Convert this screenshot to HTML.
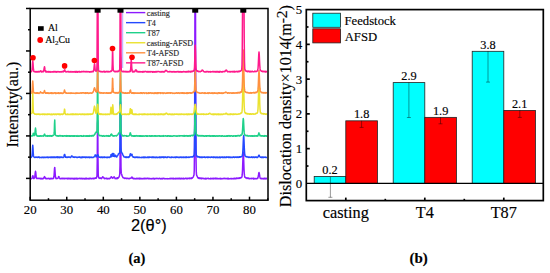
<!DOCTYPE html>
<html><head><meta charset="utf-8"><style>
html,body{margin:0;padding:0;background:#fff;width:550px;height:273px;overflow:hidden}
svg{display:block}
text{stroke:currentColor;stroke-width:0.15px}
</style></head><body>
<svg width="550" height="273" viewBox="0 0 550 273">
<defs><clipPath id="ca"><rect x="30.9" y="9.2" width="236.4" height="189.9"/></clipPath></defs>
<g clip-path="url(#ca)" fill="none" stroke-width="1.5" stroke-linejoin="round">
<path stroke="#8c1aff" d="M31.00 178.30L31.25 178.78L31.50 178.71L31.75 178.29L32.00 178.24L32.25 177.52L32.50 176.45L32.75 175.76L33.00 175.96L33.25 177.13L33.50 178.40L33.75 178.34L34.00 178.59L34.25 178.01L34.50 178.08L34.75 177.45L35.00 175.16L35.25 172.90L35.50 171.36L35.75 172.27L36.00 175.04L36.25 177.35L36.50 178.45L36.75 178.31L37.00 178.26L37.25 178.44L37.50 178.19L37.75 178.34L38.00 178.50L38.25 178.55L38.50 178.37L38.75 178.37L39.00 178.37L39.25 178.54L39.50 178.42L39.75 178.24L40.00 178.81L40.25 178.61L40.50 178.68L40.75 178.36L41.00 178.92L41.25 178.83L41.50 178.31L41.75 178.46L42.00 178.73L42.25 178.72L42.50 178.87L42.75 178.50L43.00 178.77L43.25 178.62L43.50 178.24L43.75 178.11L44.00 177.73L44.25 177.06L44.50 176.60L44.75 177.10L45.00 177.38L45.25 178.02L45.50 178.64L45.75 178.46L46.00 178.32L46.25 178.59L46.50 178.71L46.75 178.69L47.00 178.48L47.25 178.53L47.50 178.58L47.75 178.77L48.00 178.59L48.25 178.50L48.50 178.57L48.75 178.25L49.00 178.26L49.25 178.72L49.50 178.91L49.75 178.64L50.00 178.50L50.25 178.34L50.50 178.57L50.75 178.90L51.00 178.75L51.25 178.58L51.50 178.80L51.75 178.35L52.00 178.54L52.25 178.83L52.50 178.55L52.75 178.45L53.00 178.28L53.25 178.41L53.50 178.55L53.75 177.36L54.00 176.28L54.25 172.87L54.50 168.76L54.75 167.42L55.00 170.65L55.25 174.57L55.50 177.12L55.75 177.99L56.00 178.00L56.25 178.66L56.50 178.49L56.75 178.26L57.00 178.48L57.25 178.47L57.50 178.35L57.75 178.23L58.00 178.05L58.25 177.54L58.50 176.88L58.75 176.55L59.00 176.68L59.25 177.49L59.50 177.95L59.75 178.48L60.00 178.76L60.25 178.75L60.50 178.76L60.75 178.78L61.00 178.39L61.25 178.81L61.50 178.69L61.75 178.28L62.00 178.24L62.25 178.24L62.50 178.76L62.75 178.41L63.00 178.31L63.25 178.67L63.50 178.48L63.75 178.28L64.00 178.35L64.25 178.61L64.50 178.36L64.75 178.43L65.00 178.74L65.25 178.56L65.50 178.46L65.75 178.57L66.00 178.26L66.25 178.51L66.50 178.53L66.75 178.37L67.00 178.32L67.25 178.87L67.50 178.60L67.75 178.39L68.00 178.67L68.25 178.81L68.50 178.26L68.75 178.25L69.00 178.34L69.25 178.74L69.50 178.35L69.75 178.73L70.00 178.72L70.25 178.62L70.50 178.40L70.75 178.92L71.00 178.80L71.25 178.60L71.50 178.40L71.75 178.70L72.00 178.52L72.25 178.64L72.50 178.47L72.75 178.68L73.00 178.28L73.25 178.45L73.50 178.92L73.75 178.85L74.00 178.46L74.25 178.84L74.50 178.46L74.75 178.90L75.00 178.76L75.25 178.53L75.50 178.42L75.75 178.25L76.00 178.86L76.25 178.27L76.50 178.81L76.75 178.91L77.00 178.64L77.25 178.36L77.50 178.85L77.75 178.92L78.00 178.73L78.25 178.60L78.50 178.50L78.75 178.48L79.00 178.38L79.25 178.71L79.50 178.54L79.75 178.37L80.00 178.31L80.25 178.70L80.50 178.45L80.75 178.59L81.00 178.47L81.25 178.85L81.50 178.87L81.75 178.25L82.00 178.38L82.25 178.47L82.50 178.93L82.75 178.78L83.00 178.47L83.25 178.38L83.50 178.71L83.75 178.82L84.00 178.89L84.25 178.47L84.50 178.85L84.75 178.71L85.00 178.57L85.25 178.92L85.50 178.40L85.75 178.74L86.00 178.29L86.25 178.35L86.50 178.87L86.75 178.38L87.00 178.76L87.25 178.65L87.50 178.81L87.75 178.48L88.00 178.46L88.25 178.43L88.50 178.83L88.75 178.64L89.00 178.89L89.25 178.84L89.50 178.31L89.75 178.60L90.00 178.28L90.25 178.23L90.50 178.26L90.75 178.81L91.00 178.75L91.25 178.77L91.50 178.43L91.75 178.62L92.00 178.73L92.25 178.44L92.50 178.57L92.75 178.32L93.00 178.21L93.25 178.33L93.50 178.75L93.75 178.51L94.00 178.75L94.25 178.40L94.50 178.25L94.75 178.57L95.00 178.56L95.25 177.94L95.50 178.33L95.75 177.83L96.00 177.73L96.25 178.09L96.50 177.25L96.75 177.00L97.00 175.72L97.25 160.90L97.50 123.22L97.75 120.76L98.00 158.47L98.25 175.15L98.50 176.85L98.75 177.83L99.00 177.71L99.25 178.30L99.50 178.38L99.75 178.04L100.00 178.08L100.25 178.28L100.50 178.05L100.75 178.46L101.00 178.04L101.25 177.99L101.50 178.60L101.75 177.97L102.00 177.96L102.25 177.56L102.50 177.16L102.75 176.76L103.00 177.31L103.25 177.51L103.50 177.81L103.75 177.53L104.00 177.88L104.25 178.35L104.50 178.73L104.75 178.49L105.00 178.62L105.25 178.62L105.50 178.35L105.75 178.55L106.00 178.39L106.25 178.35L106.50 178.24L106.75 178.38L107.00 178.87L107.25 178.50L107.50 178.64L107.75 178.64L108.00 178.84L108.25 178.46L108.50 178.39L108.75 178.41L109.00 178.39L109.25 178.76L109.50 178.77L109.75 178.32L110.00 178.27L110.25 178.26L110.50 178.03L110.75 177.69L111.00 177.09L111.25 176.71L111.50 176.90L111.75 177.04L112.00 177.72L112.25 177.68L112.50 177.84L112.75 178.23L113.00 177.82L113.25 177.86L113.50 177.30L113.75 177.30L114.00 176.77L114.25 177.24L114.50 177.80L114.75 177.63L115.00 178.48L115.25 178.08L115.50 178.57L115.75 178.73L116.00 178.62L116.25 178.26L116.50 178.09L116.75 178.35L117.00 178.60L117.25 178.11L117.50 178.47L117.75 177.84L118.00 178.24L118.25 177.43L118.50 177.35L118.75 177.40L119.00 176.85L119.25 176.31L119.50 175.49L119.75 174.06L120.00 165.48L120.25 129.47L120.50 102.03L120.75 136.93L121.00 167.38L121.25 173.13L121.50 173.85L121.75 174.46L122.00 175.78L122.25 176.30L122.50 176.66L122.75 177.11L123.00 177.70L123.25 177.71L123.50 177.88L123.75 177.99L124.00 178.04L124.25 177.96L124.50 178.44L124.75 178.32L125.00 178.46L125.25 178.12L125.50 178.34L125.75 178.21L126.00 178.21L126.25 178.31L126.50 178.72L126.75 178.42L127.00 178.43L127.25 178.59L127.50 178.33L127.75 178.17L128.00 178.54L128.25 178.52L128.50 178.63L128.75 178.48L129.00 178.66L129.25 178.69L129.50 178.34L129.75 178.51L130.00 178.47L130.25 178.25L130.50 178.28L130.75 178.23L131.00 178.26L131.25 178.01L131.50 177.33L131.75 177.47L132.00 177.10L132.25 177.31L132.50 177.87L132.75 178.37L133.00 178.05L133.25 178.60L133.50 178.75L133.75 178.39L134.00 178.68L134.25 178.80L134.50 178.47L134.75 178.70L135.00 178.73L135.25 178.63L135.50 178.82L135.75 178.85L136.00 178.89L136.25 178.62L136.50 178.35L136.75 178.40L137.00 178.38L137.25 178.63L137.50 178.76L137.75 178.27L138.00 178.71L138.25 178.73L138.50 178.47L138.75 178.59L139.00 178.35L139.25 178.74L139.50 178.26L139.75 178.92L140.00 178.80L140.25 178.67L140.50 178.42L140.75 178.87L141.00 178.91L141.25 178.33L141.50 178.78L141.75 178.83L142.00 178.70L142.25 178.73L142.50 178.55L142.75 178.88L143.00 178.92L143.25 178.51L143.50 178.80L143.75 178.54L144.00 178.35L144.25 178.47L144.50 178.33L144.75 178.87L145.00 178.91L145.25 178.32L145.50 178.66L145.75 178.52L146.00 178.32L146.25 178.45L146.50 178.41L146.75 178.76L147.00 178.24L147.25 178.37L147.50 178.55L147.75 178.25L148.00 178.68L148.25 178.66L148.50 178.82L148.75 178.38L149.00 178.44L149.25 178.62L149.50 178.43L149.75 178.65L150.00 178.42L150.25 178.72L150.50 178.79L150.75 178.81L151.00 178.92L151.25 178.62L151.50 178.58L151.75 178.84L152.00 178.78L152.25 178.64L152.50 178.51L152.75 178.44L153.00 178.32L153.25 178.81L153.50 178.32L153.75 178.76L154.00 178.62L154.25 178.92L154.50 178.77L154.75 178.92L155.00 178.34L155.25 178.59L155.50 178.64L155.75 178.46L156.00 178.59L156.25 178.49L156.50 178.61L156.75 178.24L157.00 178.55L157.25 178.56L157.50 178.45L157.75 178.52L158.00 178.79L158.25 178.72L158.50 178.59L158.75 178.69L159.00 178.51L159.25 178.38L159.50 178.24L159.75 178.44L160.00 178.66L160.25 178.86L160.50 178.82L160.75 178.60L161.00 178.93L161.25 178.56L161.50 178.82L161.75 178.53L162.00 178.76L162.25 178.93L162.50 178.45L162.75 178.36L163.00 178.67L163.25 178.61L163.50 178.49L163.75 178.24L164.00 178.51L164.25 178.54L164.50 178.52L164.75 178.84L165.00 178.65L165.25 178.75L165.50 178.87L165.75 178.76L166.00 178.58L166.25 178.76L166.50 178.69L166.75 178.69L167.00 178.68L167.25 178.52L167.50 178.68L167.75 178.68L168.00 178.89L168.25 178.79L168.50 178.83L168.75 178.78L169.00 178.81L169.25 178.66L169.50 178.48L169.75 178.42L170.00 178.73L170.25 178.85L170.50 178.62L170.75 178.34L171.00 178.82L171.25 178.58L171.50 178.56L171.75 178.27L172.00 178.59L172.25 178.76L172.50 178.53L172.75 178.48L173.00 178.69L173.25 178.25L173.50 178.59L173.75 178.90L174.00 178.72L174.25 178.51L174.50 178.72L174.75 178.66L175.00 178.38L175.25 178.38L175.50 178.85L175.75 178.42L176.00 178.28L176.25 178.81L176.50 178.60L176.75 178.49L177.00 178.59L177.25 178.74L177.50 178.35L177.75 178.68L178.00 178.73L178.25 178.80L178.50 178.41L178.75 178.65L179.00 178.39L179.25 178.62L179.50 178.34L179.75 178.78L180.00 178.83L180.25 178.45L180.50 178.38L180.75 178.89L181.00 178.71L181.25 178.81L181.50 178.24L181.75 178.84L182.00 178.65L182.25 178.43L182.50 178.51L182.75 178.74L183.00 178.76L183.25 178.34L183.50 178.64L183.75 178.32L184.00 178.88L184.25 178.51L184.50 178.84L184.75 178.70L185.00 178.62L185.25 178.37L185.50 178.55L185.75 178.28L186.00 178.28L186.25 178.68L186.50 178.42L186.75 178.69L187.00 178.33L187.25 178.66L187.50 178.65L187.75 178.36L188.00 178.21L188.25 178.41L188.50 178.47L188.75 178.18L189.00 178.23L189.25 178.13L189.50 178.50L189.75 178.68L190.00 178.20L190.25 178.05L190.50 178.50L190.75 178.55L191.00 178.62L191.25 178.34L191.50 178.10L191.75 178.38L192.00 177.79L192.25 178.08L192.50 177.51L192.75 177.52L193.00 177.30L193.25 176.84L193.50 176.22L193.75 175.65L194.00 175.01L194.25 170.49L194.50 149.63L194.75 85.21L195.00 -13.25L195.25 -57.77L195.50 6.76L195.75 103.39L196.00 156.47L196.25 171.08L196.50 174.61L196.75 175.58L197.00 175.88L197.25 176.48L197.50 177.07L197.75 177.67L198.00 177.58L198.25 178.11L198.50 178.18L198.75 177.86L199.00 178.47L199.25 177.90L199.50 178.04L199.75 178.43L200.00 178.04L200.25 178.29L200.50 178.13L200.75 178.38L201.00 178.66L201.25 178.72L201.50 178.12L201.75 178.15L202.00 178.71L202.25 178.16L202.50 178.33L202.75 178.22L203.00 178.21L203.25 178.17L203.50 178.61L203.75 178.69L204.00 178.65L204.25 178.76L204.50 178.64L204.75 178.45L205.00 178.62L205.25 178.86L205.50 178.64L205.75 178.36L206.00 178.24L206.25 178.85L206.50 178.61L206.75 178.44L207.00 178.62L207.25 178.59L207.50 178.57L207.75 178.25L208.00 178.45L208.25 178.50L208.50 178.35L208.75 178.83L209.00 178.51L209.25 178.68L209.50 178.71L209.75 178.73L210.00 178.72L210.25 178.74L210.50 178.39L210.75 178.90L211.00 178.32L211.25 178.86L211.50 178.82L211.75 178.82L212.00 178.26L212.25 178.28L212.50 178.79L212.75 178.55L213.00 178.48L213.25 178.91L213.50 178.25L213.75 178.60L214.00 178.53L214.25 178.31L214.50 178.50L214.75 178.72L215.00 178.84L215.25 178.24L215.50 178.59L215.75 178.29L216.00 178.79L216.25 178.29L216.50 178.25L216.75 178.49L217.00 178.74L217.25 178.44L217.50 178.32L217.75 178.78L218.00 178.79L218.25 178.82L218.50 178.44L218.75 178.52L219.00 178.40L219.25 178.62L219.50 178.46L219.75 178.46L220.00 178.77L220.25 178.89L220.50 178.63L220.75 178.30L221.00 178.68L221.25 178.54L221.50 178.92L221.75 178.73L222.00 178.81L222.25 178.71L222.50 178.60L222.75 178.85L223.00 178.80L223.25 178.43L223.50 178.33L223.75 178.48L224.00 178.59L224.25 178.29L224.50 178.46L224.75 178.62L225.00 178.25L225.25 178.79L225.50 178.67L225.75 178.44L226.00 178.43L226.25 178.46L226.50 178.44L226.75 178.74L227.00 178.56L227.25 178.58L227.50 178.32L227.75 178.85L228.00 178.44L228.25 178.44L228.50 178.26L228.75 178.89L229.00 178.54L229.25 178.84L229.50 178.85L229.75 178.88L230.00 178.77L230.25 178.85L230.50 178.84L230.75 178.76L231.00 178.29L231.25 178.56L231.50 178.59L231.75 178.88L232.00 178.73L232.25 178.67L232.50 178.70L232.75 178.43L233.00 178.83L233.25 178.62L233.50 178.45L233.75 178.49L234.00 178.84L234.25 178.52L234.50 178.26L234.75 178.25L235.00 178.62L235.25 178.52L235.50 178.76L235.75 178.24L236.00 178.39L236.25 178.60L236.50 178.12L236.75 178.14L237.00 178.44L237.25 178.23L237.50 178.10L237.75 178.19L238.00 178.43L238.25 178.33L238.50 177.99L238.75 177.96L239.00 178.47L239.25 178.28L239.50 177.91L239.75 178.33L240.00 177.68L240.25 177.85L240.50 178.09L240.75 177.89L241.00 177.46L241.25 177.73L241.50 177.32L241.75 177.20L242.00 176.54L242.25 174.43L242.50 170.55L242.75 163.61L243.00 156.23L243.25 152.00L243.50 154.30L243.75 161.47L244.00 169.04L244.25 173.42L244.50 175.69L244.75 176.98L245.00 177.37L245.25 177.41L245.50 177.56L245.75 177.64L246.00 178.09L246.25 178.12L246.50 178.05L246.75 177.74L247.00 178.37L247.25 178.14L247.50 177.99L247.75 178.11L248.00 178.41L248.25 177.96L248.50 178.07L248.75 178.21L249.00 178.64L249.25 178.56L249.50 178.73L249.75 178.45L250.00 178.48L250.25 178.47L250.50 178.47L250.75 178.49L251.00 178.69L251.25 178.79L251.50 178.41L251.75 178.58L252.00 178.35L252.25 178.36L252.50 178.50L252.75 178.56L253.00 178.54L253.25 178.84L253.50 178.27L253.75 178.61L254.00 178.86L254.25 178.68L254.50 178.56L254.75 178.42L255.00 178.45L255.25 178.82L255.50 178.79L255.75 178.63L256.00 178.78L256.25 178.80L256.50 178.73L256.75 178.39L257.00 178.43L257.25 178.63L257.50 178.24L257.75 178.28L258.00 177.54L258.25 176.37L258.50 174.88L258.75 173.03L259.00 172.47L259.25 173.21L259.50 174.54L259.75 176.23L260.00 177.38L260.25 178.36L260.50 178.40L260.75 178.28L261.00 178.82L261.25 178.32L261.50 178.52L261.75 178.69L262.00 178.66L262.25 178.49L262.50 178.74L262.75 178.54L263.00 178.70L263.25 178.55L263.50 178.89L263.75 178.71L264.00 178.28L264.25 178.31L264.50 178.89L264.75 178.38L265.00 178.24L265.25 178.40L265.50 178.56L265.75 178.89L266.00 178.50L266.25 178.73L266.50 178.81L266.75 178.29L267.00 178.66"/>
<path stroke="#2449ff" d="M31.00 157.50L31.25 157.45L31.50 156.76L31.75 156.56L32.00 156.22L32.25 153.41L32.50 148.54L32.75 145.17L33.00 148.16L33.25 153.05L33.50 155.93L33.75 156.59L34.00 157.01L34.25 157.06L34.50 157.33L34.75 157.55L35.00 157.54L35.25 157.27L35.50 157.21L35.75 157.09L36.00 156.94L36.25 156.94L36.50 157.25L36.75 157.15L37.00 157.19L37.25 157.55L37.50 157.30L37.75 157.33L38.00 157.10L38.25 156.95L38.50 157.16L38.75 157.03L39.00 157.30L39.25 157.64L39.50 157.41L39.75 157.07L40.00 157.57L40.25 157.50L40.50 157.46L40.75 157.58L41.00 157.48L41.25 157.50L41.50 157.19L41.75 157.63L42.00 157.62L42.25 157.06L42.50 157.47L42.75 157.45L43.00 157.27L43.25 157.32L43.50 157.29L43.75 157.59L44.00 157.30L44.25 157.53L44.50 157.19L44.75 157.56L45.00 157.58L45.25 157.27L45.50 157.34L45.75 157.59L46.00 157.45L46.25 157.29L46.50 157.10L46.75 157.17L47.00 157.44L47.25 157.06L47.50 157.58L47.75 157.13L48.00 157.58L48.25 157.16L48.50 157.62L48.75 157.44L49.00 157.30L49.25 157.31L49.50 157.40L49.75 157.36L50.00 157.16L50.25 157.09L50.50 157.30L50.75 157.60L51.00 157.38L51.25 157.00L51.50 157.52L51.75 157.45L52.00 157.58L52.25 157.08L52.50 157.47L52.75 156.99L53.00 157.40L53.25 157.14L53.50 157.10L53.75 157.56L54.00 157.02L54.25 157.31L54.50 157.54L54.75 157.12L55.00 157.09L55.25 157.56L55.50 157.24L55.75 157.45L56.00 156.97L56.25 157.20L56.50 157.07L56.75 157.42L57.00 157.00L57.25 157.61L57.50 156.96L57.75 157.45L58.00 156.96L58.25 157.12L58.50 157.51L58.75 157.05L59.00 157.07L59.25 157.43L59.50 157.21L59.75 156.97L60.00 157.63L60.25 157.05L60.50 156.96L60.75 157.18L61.00 157.37L61.25 157.46L61.50 157.01L61.75 157.17L62.00 156.95L62.25 157.24L62.50 157.45L62.75 157.43L63.00 157.53L63.25 157.40L63.50 157.41L63.75 157.04L64.00 156.21L64.25 154.96L64.50 154.44L64.75 154.55L65.00 155.49L65.25 156.62L65.50 157.33L65.75 156.94L66.00 157.30L66.25 157.18L66.50 157.27L66.75 157.02L67.00 157.59L67.25 157.11L67.50 157.35L67.75 157.22L68.00 156.94L68.25 157.32L68.50 157.03L68.75 156.97L69.00 156.95L69.25 157.04L69.50 156.99L69.75 157.36L70.00 157.27L70.25 157.59L70.50 157.52L70.75 157.46L71.00 156.73L71.25 156.53L71.50 155.98L71.75 155.90L72.00 155.94L72.25 156.39L72.50 156.74L72.75 156.76L73.00 157.07L73.25 157.24L73.50 156.91L73.75 156.94L74.00 157.21L74.25 157.00L74.50 157.44L74.75 157.10L75.00 157.00L75.25 157.06L75.50 157.10L75.75 157.09L76.00 157.30L76.25 157.26L76.50 157.16L76.75 157.39L77.00 157.09L77.25 157.58L77.50 157.62L77.75 157.45L78.00 157.25L78.25 157.30L78.50 157.35L78.75 156.98L79.00 157.24L79.25 157.31L79.50 157.07L79.75 157.01L80.00 157.50L80.25 157.20L80.50 157.31L80.75 157.59L81.00 157.37L81.25 157.15L81.50 157.63L81.75 157.20L82.00 156.96L82.25 157.42L82.50 157.01L82.75 157.16L83.00 157.53L83.25 157.41L83.50 156.95L83.75 157.26L84.00 157.23L84.25 157.28L84.50 157.09L84.75 157.35L85.00 156.99L85.25 157.14L85.50 157.20L85.75 157.60L86.00 156.99L86.25 157.47L86.50 157.08L86.75 157.34L87.00 157.21L87.25 157.26L87.50 157.47L87.75 157.22L88.00 157.02L88.25 157.02L88.50 156.99L88.75 157.53L89.00 157.39L89.25 157.61L89.50 157.42L89.75 156.95L90.00 157.39L90.25 157.48L90.50 157.44L90.75 157.28L91.00 157.18L91.25 157.25L91.50 157.48L91.75 157.11L92.00 157.29L92.25 157.25L92.50 157.58L92.75 157.47L93.00 157.55L93.25 157.47L93.50 157.08L93.75 157.00L94.00 157.08L94.25 156.69L94.50 156.37L94.75 155.89L95.00 155.38L95.25 154.82L95.50 155.25L95.75 155.39L96.00 156.21L96.25 157.05L96.50 156.51L96.75 156.41L97.00 155.54L97.25 154.73L97.50 154.64L97.75 154.69L98.00 155.08L98.25 155.56L98.50 156.37L98.75 156.73L99.00 157.23L99.25 157.32L99.50 157.18L99.75 157.25L100.00 156.97L100.25 157.28L100.50 157.57L100.75 157.44L101.00 156.98L101.25 157.28L101.50 157.42L101.75 157.10L102.00 157.55L102.25 157.24L102.50 157.41L102.75 157.20L103.00 157.62L103.25 157.47L103.50 157.32L103.75 157.02L104.00 157.23L104.25 156.94L104.50 157.34L104.75 157.54L105.00 157.05L105.25 157.28L105.50 157.26L105.75 157.20L106.00 157.41L106.25 157.57L106.50 157.41L106.75 157.24L107.00 157.59L107.25 157.14L107.50 157.43L107.75 157.37L108.00 157.44L108.25 157.50L108.50 157.05L108.75 157.33L109.00 157.17L109.25 157.35L109.50 157.55L109.75 157.30L110.00 156.84L110.25 157.10L110.50 157.03L110.75 156.29L111.00 154.71L111.25 154.54L111.50 155.22L111.75 156.65L112.00 155.84L112.25 153.96L112.50 153.51L112.75 155.08L113.00 155.86L113.25 156.13L113.50 154.63L113.75 153.42L114.00 155.07L114.25 156.33L114.50 156.43L114.75 156.56L115.00 155.46L115.25 155.25L115.50 155.15L115.75 155.59L116.00 156.42L116.25 156.69L116.50 156.59L116.75 157.04L117.00 156.21L117.25 155.85L117.50 155.75L117.75 155.47L118.00 154.77L118.25 154.30L118.50 153.70L118.75 153.62L119.00 153.36L119.25 153.36L119.50 153.48L119.75 152.51L120.00 145.59L120.25 115.63L120.50 91.50L120.75 121.78L121.00 147.24L121.25 151.52L121.50 152.19L121.75 152.62L122.00 153.14L122.25 153.19L122.50 153.82L122.75 154.58L123.00 155.20L123.25 155.57L123.50 155.77L123.75 156.46L124.00 156.98L124.25 156.72L124.50 156.95L124.75 156.92L125.00 157.01L125.25 157.35L125.50 156.98L125.75 157.23L126.00 157.13L126.25 157.18L126.50 157.45L126.75 156.87L127.00 157.40L127.25 157.04L127.50 157.29L127.75 157.39L128.00 157.29L128.25 157.10L128.50 157.41L128.75 156.87L129.00 157.21L129.25 156.93L129.50 156.68L129.75 156.13L130.00 154.94L130.25 153.88L130.50 153.76L130.75 154.65L131.00 155.56L131.25 155.34L131.50 154.65L131.75 154.53L132.00 154.24L132.25 155.71L132.50 156.30L132.75 156.81L133.00 156.98L133.25 156.88L133.50 157.18L133.75 156.99L134.00 157.19L134.25 157.09L134.50 157.52L134.75 157.55L135.00 157.22L135.25 157.36L135.50 157.56L135.75 157.14L136.00 156.99L136.25 157.09L136.50 157.05L136.75 157.40L137.00 157.18L137.25 157.17L137.50 157.48L137.75 157.09L138.00 157.49L138.25 157.37L138.50 157.21L138.75 157.51L139.00 157.17L139.25 157.55L139.50 157.58L139.75 157.28L140.00 157.42L140.25 157.60L140.50 157.45L140.75 157.46L141.00 157.54L141.25 157.59L141.50 157.46L141.75 157.62L142.00 157.14L142.25 157.37L142.50 157.41L142.75 157.19L143.00 157.21L143.25 157.06L143.50 157.61L143.75 157.19L144.00 157.27L144.25 157.56L144.50 157.07L144.75 157.61L145.00 157.03L145.25 156.96L145.50 157.18L145.75 157.19L146.00 157.58L146.25 157.56L146.50 157.47L146.75 157.25L147.00 157.32L147.25 157.11L147.50 157.52L147.75 157.21L148.00 157.14L148.25 157.39L148.50 157.05L148.75 157.16L149.00 157.59L149.25 157.01L149.50 157.04L149.75 157.08L150.00 157.12L150.25 157.24L150.50 157.12L150.75 157.18L151.00 157.11L151.25 157.11L151.50 157.37L151.75 157.18L152.00 157.20L152.25 157.48L152.50 156.99L152.75 157.04L153.00 157.54L153.25 157.24L153.50 157.49L153.75 157.04L154.00 157.31L154.25 157.53L154.50 157.18L154.75 157.48L155.00 157.37L155.25 157.22L155.50 157.64L155.75 157.22L156.00 157.27L156.25 157.38L156.50 157.16L156.75 157.53L157.00 157.36L157.25 157.35L157.50 157.32L157.75 157.63L158.00 157.63L158.25 157.53L158.50 157.26L158.75 157.23L159.00 157.31L159.25 156.97L159.50 157.02L159.75 157.64L160.00 157.03L160.25 157.60L160.50 157.42L160.75 157.58L161.00 157.00L161.25 157.16L161.50 157.50L161.75 156.95L162.00 157.02L162.25 157.19L162.50 157.06L162.75 157.04L163.00 157.41L163.25 157.01L163.50 157.62L163.75 157.40L164.00 156.98L164.25 157.57L164.50 157.11L164.75 157.28L165.00 157.33L165.25 157.04L165.50 157.29L165.75 156.98L166.00 157.08L166.25 157.58L166.50 157.52L166.75 157.31L167.00 157.42L167.25 157.55L167.50 157.04L167.75 157.29L168.00 157.03L168.25 157.02L168.50 157.02L168.75 157.09L169.00 156.98L169.25 157.09L169.50 157.21L169.75 157.38L170.00 157.54L170.25 157.57L170.50 157.44L170.75 157.29L171.00 157.58L171.25 157.05L171.50 157.01L171.75 157.51L172.00 157.38L172.25 157.09L172.50 157.20L172.75 157.15L173.00 157.24L173.25 157.24L173.50 157.22L173.75 157.50L174.00 157.51L174.25 157.33L174.50 157.27L174.75 157.14L175.00 157.47L175.25 157.63L175.50 157.10L175.75 157.43L176.00 157.42L176.25 157.40L176.50 156.96L176.75 157.32L177.00 157.08L177.25 157.07L177.50 157.34L177.75 157.38L178.00 157.37L178.25 157.45L178.50 157.42L178.75 157.26L179.00 156.96L179.25 157.47L179.50 157.51L179.75 157.51L180.00 157.35L180.25 156.95L180.50 157.06L180.75 157.00L181.00 157.37L181.25 157.31L181.50 157.05L181.75 157.59L182.00 157.61L182.25 157.55L182.50 157.25L182.75 157.12L183.00 157.06L183.25 157.49L183.50 157.41L183.75 157.11L184.00 157.54L184.25 157.31L184.50 157.20L184.75 157.20L185.00 157.41L185.25 157.22L185.50 157.36L185.75 156.98L186.00 157.39L186.25 157.08L186.50 157.53L186.75 157.04L187.00 157.12L187.25 157.26L187.50 157.15L187.75 157.24L188.00 157.51L188.25 157.00L188.50 157.39L188.75 157.33L189.00 157.39L189.25 157.14L189.50 157.14L189.75 157.05L190.00 157.13L190.25 156.96L190.50 156.90L190.75 157.08L191.00 156.86L191.25 157.02L191.50 157.07L191.75 156.84L192.00 156.70L192.25 156.95L192.50 157.06L192.75 156.53L193.00 156.70L193.25 156.60L193.50 156.59L193.75 156.22L194.00 155.57L194.25 154.03L194.50 147.45L194.75 125.75L195.00 92.81L195.25 78.79L195.50 99.69L195.75 131.80L196.00 149.48L196.25 154.60L196.50 155.98L196.75 156.04L197.00 156.31L197.25 156.46L197.50 156.88L197.75 156.41L198.00 156.88L198.25 156.63L198.50 156.70L198.75 157.06L199.00 156.93L199.25 156.75L199.50 157.14L199.75 157.39L200.00 157.22L200.25 157.13L200.50 157.36L200.75 157.45L201.00 156.93L201.25 157.04L201.50 157.52L201.75 157.50L202.00 157.00L202.25 157.35L202.50 157.48L202.75 157.28L203.00 157.37L203.25 157.25L203.50 157.05L203.75 157.04L204.00 156.93L204.25 157.36L204.50 156.99L204.75 157.33L205.00 157.17L205.25 157.21L205.50 157.58L205.75 157.18L206.00 157.24L206.25 157.18L206.50 157.06L206.75 157.07L207.00 157.29L207.25 157.49L207.50 156.98L207.75 157.58L208.00 157.39L208.25 156.96L208.50 157.41L208.75 157.20L209.00 157.28L209.25 156.99L209.50 157.28L209.75 157.29L210.00 157.47L210.25 157.33L210.50 157.42L210.75 157.44L211.00 157.08L211.25 156.94L211.50 157.26L211.75 157.02L212.00 157.03L212.25 157.15L212.50 157.30L212.75 157.36L213.00 157.38L213.25 157.59L213.50 157.00L213.75 157.32L214.00 156.99L214.25 157.40L214.50 157.24L214.75 157.03L215.00 157.15L215.25 157.39L215.50 157.26L215.75 157.59L216.00 157.18L216.25 157.17L216.50 157.58L216.75 157.36L217.00 157.01L217.25 157.48L217.50 157.19L217.75 157.59L218.00 157.38L218.25 157.49L218.50 157.56L218.75 157.29L219.00 157.61L219.25 156.95L219.50 157.17L219.75 157.52L220.00 156.94L220.25 157.40L220.50 157.63L220.75 157.43L221.00 157.53L221.25 156.98L221.50 157.31L221.75 157.36L222.00 157.23L222.25 157.22L222.50 157.48L222.75 157.04L223.00 156.96L223.25 157.34L223.50 157.60L223.75 157.51L224.00 157.40L224.25 157.13L224.50 157.56L224.75 156.95L225.00 157.10L225.25 157.48L225.50 157.55L225.75 157.21L226.00 157.56L226.25 157.00L226.50 157.34L226.75 156.97L227.00 157.09L227.25 157.05L227.50 156.93L227.75 157.20L228.00 157.27L228.25 157.12L228.50 157.37L228.75 156.95L229.00 157.28L229.25 157.28L229.50 157.20L229.75 157.55L230.00 157.00L230.25 157.21L230.50 157.23L230.75 157.17L231.00 157.59L231.25 157.31L231.50 157.27L231.75 157.21L232.00 157.21L232.25 157.56L232.50 157.46L232.75 157.35L233.00 157.01L233.25 157.31L233.50 156.98L233.75 157.13L234.00 156.90L234.25 157.37L234.50 157.56L234.75 157.32L235.00 157.26L235.25 157.04L235.50 157.16L235.75 157.17L236.00 157.14L236.25 157.02L236.50 156.98L236.75 157.35L237.00 157.48L237.25 157.38L237.50 157.22L237.75 156.80L238.00 156.97L238.25 157.34L238.50 157.41L238.75 157.09L239.00 157.08L239.25 157.14L239.50 156.80L239.75 157.09L240.00 156.81L240.25 157.09L240.50 156.77L240.75 156.84L241.00 156.68L241.25 156.57L241.50 156.40L241.75 156.60L242.00 156.27L242.25 155.67L242.50 154.80L242.75 152.75L243.00 148.08L243.25 141.73L243.50 136.80L243.75 135.62L244.00 140.35L244.25 146.72L244.50 151.66L244.75 154.77L245.00 155.92L245.25 155.96L245.50 156.33L245.75 156.59L246.00 156.66L246.25 156.53L246.50 156.92L246.75 156.67L247.00 156.59L247.25 157.01L247.50 157.04L247.75 156.91L248.00 157.00L248.25 157.37L248.50 157.27L248.75 157.01L249.00 157.38L249.25 157.16L249.50 157.06L249.75 157.24L250.00 157.35L250.25 157.44L250.50 157.29L250.75 157.29L251.00 157.11L251.25 156.87L251.50 157.17L251.75 156.93L252.00 157.52L252.25 157.12L252.50 157.29L252.75 157.38L253.00 157.00L253.25 157.46L253.50 157.11L253.75 156.94L254.00 157.30L254.25 157.17L254.50 157.53L254.75 157.20L255.00 156.96L255.25 156.91L255.50 156.91L255.75 157.24L256.00 157.39L256.25 156.93L256.50 157.12L256.75 157.22L257.00 157.51L257.25 157.55L257.50 157.45L257.75 157.21L258.00 156.98L258.25 156.38L258.50 156.13L258.75 155.28L259.00 155.13L259.25 155.74L259.50 156.09L259.75 156.73L260.00 156.91L260.25 156.97L260.50 157.20L260.75 157.28L261.00 157.06L261.25 157.49L261.50 157.59L261.75 157.04L262.00 157.08L262.25 157.49L262.50 157.42L262.75 157.08L263.00 157.33L263.25 157.09L263.50 157.53L263.75 157.34L264.00 157.29L264.25 157.04L264.50 157.21L264.75 157.26L265.00 157.18L265.25 157.06L265.50 157.07L265.75 157.42L266.00 157.58L266.25 157.52L266.50 157.36L266.75 157.49L267.00 157.03"/>
<path stroke="#1fd18a" d="M31.00 135.78L31.25 135.99L31.50 135.86L31.75 136.02L32.00 136.02L32.25 135.60L32.50 135.50L32.75 135.83L33.00 134.69L33.25 133.43L33.50 133.27L33.75 133.66L34.00 135.09L34.25 135.44L34.50 135.50L34.75 134.33L35.00 132.61L35.25 129.83L35.50 127.99L35.75 129.76L36.00 132.67L36.25 134.32L36.50 135.69L36.75 135.83L37.00 135.71L37.25 135.56L37.50 136.17L37.75 135.91L38.00 136.09L38.25 136.21L38.50 136.10L38.75 136.25L39.00 135.89L39.25 136.17L39.50 135.93L39.75 136.27L40.00 136.24L40.25 135.69L40.50 135.72L40.75 135.77L41.00 136.30L41.25 135.93L41.50 136.06L41.75 135.83L42.00 135.97L42.25 135.88L42.50 135.85L42.75 136.01L43.00 135.99L43.25 136.18L43.50 135.90L43.75 135.74L44.00 135.11L44.25 134.56L44.50 134.11L44.75 134.19L45.00 135.35L45.25 135.92L45.50 136.11L45.75 135.96L46.00 136.09L46.25 135.75L46.50 136.19L46.75 136.01L47.00 135.81L47.25 135.66L47.50 136.21L47.75 136.30L48.00 135.67L48.25 136.17L48.50 135.90L48.75 135.71L49.00 135.81L49.25 136.14L49.50 136.21L49.75 135.63L50.00 136.02L50.25 135.62L50.50 136.08L50.75 135.80L51.00 136.18L51.25 136.24L51.50 135.89L51.75 136.22L52.00 135.71L52.25 135.52L52.50 135.85L52.75 135.40L53.00 135.45L53.25 135.50L53.50 135.50L53.75 134.98L54.00 134.46L54.25 132.45L54.50 123.46L54.75 120.06L55.00 128.74L55.25 133.95L55.50 135.04L55.75 135.35L56.00 135.60L56.25 135.68L56.50 135.74L56.75 135.84L57.00 136.11L57.25 135.84L57.50 135.81L57.75 136.03L58.00 135.71L58.25 135.77L58.50 136.25L58.75 135.94L59.00 135.97L59.25 135.60L59.50 135.89L59.75 136.01L60.00 135.62L60.25 136.04L60.50 136.05L60.75 135.66L61.00 136.06L61.25 135.94L61.50 136.10L61.75 135.87L62.00 136.12L62.25 136.14L62.50 135.64L62.75 135.67L63.00 136.10L63.25 136.30L63.50 135.81L63.75 135.95L64.00 136.05L64.25 135.86L64.50 135.89L64.75 135.85L65.00 135.89L65.25 136.05L65.50 135.85L65.75 135.90L66.00 136.18L66.25 135.65L66.50 136.03L66.75 136.15L67.00 135.85L67.25 135.79L67.50 136.20L67.75 135.80L68.00 135.77L68.25 135.94L68.50 136.13L68.75 135.71L69.00 135.86L69.25 135.87L69.50 136.22L69.75 135.95L70.00 136.24L70.25 135.76L70.50 135.87L70.75 136.09L71.00 136.26L71.25 135.96L71.50 135.80L71.75 135.72L72.00 136.01L72.25 135.77L72.50 136.20L72.75 136.23L73.00 135.77L73.25 135.83L73.50 136.20L73.75 136.09L74.00 136.20L74.25 135.88L74.50 135.73L74.75 135.84L75.00 136.19L75.25 135.83L75.50 135.88L75.75 135.93L76.00 135.93L76.25 135.93L76.50 136.28L76.75 135.75L77.00 135.64L77.25 136.30L77.50 136.25L77.75 136.33L78.00 135.94L78.25 136.30L78.50 136.29L78.75 135.79L79.00 136.16L79.25 136.22L79.50 136.10L79.75 136.00L80.00 135.84L80.25 135.87L80.50 135.79L80.75 135.68L81.00 136.05L81.25 135.84L81.50 136.20L81.75 135.67L82.00 136.27L82.25 136.12L82.50 136.28L82.75 136.26L83.00 136.26L83.25 136.03L83.50 135.64L83.75 136.15L84.00 135.75L84.25 135.84L84.50 136.09L84.75 135.99L85.00 135.92L85.25 136.28L85.50 136.05L85.75 135.86L86.00 135.80L86.25 136.22L86.50 135.95L86.75 136.17L87.00 135.86L87.25 135.75L87.50 135.99L87.75 136.18L88.00 135.73L88.25 136.16L88.50 136.25L88.75 136.17L89.00 136.18L89.25 135.60L89.50 136.04L89.75 136.20L90.00 135.62L90.25 135.77L90.50 135.77L90.75 135.94L91.00 135.86L91.25 135.89L91.50 136.10L91.75 135.55L92.00 135.57L92.25 135.61L92.50 135.59L92.75 135.52L93.00 136.12L93.25 135.98L93.50 135.36L93.75 135.52L94.00 135.21L94.25 134.95L94.50 134.64L94.75 134.44L95.00 133.94L95.25 133.31L95.50 132.75L95.75 132.49L96.00 132.14L96.25 132.37L96.50 132.51L96.75 132.25L97.00 130.39L97.25 113.55L97.50 68.84L97.75 66.29L98.00 112.10L98.25 131.62L98.50 134.51L98.75 134.88L99.00 135.05L99.25 135.21L99.50 135.44L99.75 135.69L100.00 135.57L100.25 135.82L100.50 135.70L100.75 135.59L101.00 135.82L101.25 135.95L101.50 135.54L101.75 135.80L102.00 135.81L102.25 136.14L102.50 136.19L102.75 135.81L103.00 136.18L103.25 136.11L103.50 135.75L103.75 135.89L104.00 135.66L104.25 136.15L104.50 136.04L104.75 136.21L105.00 136.14L105.25 136.06L105.50 136.10L105.75 135.99L106.00 135.67L106.25 136.01L106.50 135.60L106.75 135.70L107.00 136.14L107.25 135.63L107.50 135.66L107.75 135.66L108.00 136.21L108.25 135.72L108.50 135.61L108.75 136.17L109.00 135.67L109.25 136.17L109.50 136.04L109.75 136.13L110.00 136.15L110.25 135.75L110.50 135.62L110.75 134.61L111.00 134.56L111.25 133.99L111.50 134.20L111.75 134.24L112.00 135.24L112.25 135.80L112.50 135.43L112.75 135.72L113.00 135.92L113.25 136.12L113.50 135.72L113.75 135.67L114.00 135.72L114.25 135.97L114.50 136.06L114.75 135.81L115.00 135.78L115.25 135.79L115.50 135.74L115.75 135.77L116.00 135.50L116.25 135.75L116.50 136.01L116.75 135.51L117.00 135.59L117.25 134.97L117.50 135.06L117.75 134.76L118.00 134.31L118.25 133.79L118.50 133.37L118.75 133.14L119.00 133.07L119.25 132.40L119.50 132.26L119.75 132.11L120.00 123.99L120.25 86.36L120.50 57.39L120.75 95.60L121.00 127.56L121.25 133.70L121.50 134.42L121.75 135.05L122.00 135.10L122.25 135.21L122.50 135.65L122.75 135.92L123.00 135.52L123.25 135.86L123.50 135.69L123.75 136.03L124.00 135.87L124.25 135.67L124.50 135.65L124.75 135.53L125.00 135.86L125.25 135.80L125.50 135.66L125.75 135.80L126.00 135.78L126.25 136.10L126.50 135.66L126.75 136.26L127.00 135.91L127.25 135.99L127.50 135.90L127.75 136.15L128.00 136.14L128.25 135.95L128.50 135.88L128.75 136.02L129.00 136.04L129.25 135.52L129.50 135.32L129.75 134.78L130.00 133.59L130.25 132.84L130.50 132.93L130.75 133.95L131.00 134.76L131.25 135.61L131.50 135.91L131.75 135.65L132.00 135.68L132.25 135.75L132.50 135.72L132.75 136.09L133.00 136.20L133.25 136.24L133.50 135.79L133.75 136.22L134.00 135.84L134.25 135.91L134.50 136.13L134.75 135.68L135.00 135.69L135.25 136.21L135.50 135.83L135.75 135.88L136.00 136.03L136.25 136.10L136.50 135.64L136.75 135.87L137.00 135.94L137.25 135.97L137.50 135.78L137.75 136.04L138.00 136.30L138.25 135.91L138.50 136.02L138.75 135.72L139.00 135.83L139.25 136.10L139.50 135.72L139.75 136.26L140.00 136.27L140.25 135.71L140.50 136.30L140.75 135.90L141.00 136.18L141.25 136.17L141.50 135.85L141.75 136.11L142.00 136.10L142.25 136.20L142.50 135.83L142.75 136.17L143.00 136.31L143.25 136.11L143.50 136.02L143.75 135.72L144.00 135.99L144.25 135.89L144.50 136.14L144.75 136.12L145.00 136.04L145.25 135.77L145.50 136.09L145.75 136.08L146.00 135.77L146.25 136.26L146.50 136.10L146.75 135.73L147.00 136.29L147.25 135.74L147.50 135.87L147.75 136.15L148.00 136.06L148.25 136.03L148.50 136.10L148.75 135.96L149.00 135.86L149.25 135.77L149.50 135.69L149.75 136.14L150.00 136.17L150.25 136.02L150.50 136.16L150.75 135.89L151.00 135.83L151.25 135.91L151.50 136.25L151.75 135.67L152.00 136.00L152.25 135.82L152.50 136.18L152.75 135.89L153.00 135.88L153.25 135.93L153.50 136.02L153.75 136.18L154.00 135.89L154.25 136.24L154.50 135.72L154.75 135.83L155.00 135.71L155.25 135.72L155.50 136.19L155.75 136.15L156.00 135.77L156.25 135.78L156.50 135.93L156.75 136.16L157.00 136.21L157.25 136.17L157.50 136.06L157.75 135.75L158.00 135.92L158.25 135.78L158.50 136.01L158.75 136.04L159.00 135.78L159.25 135.82L159.50 136.19L159.75 135.66L160.00 136.21L160.25 136.27L160.50 136.31L160.75 135.91L161.00 136.03L161.25 136.05L161.50 136.09L161.75 136.33L162.00 136.12L162.25 135.85L162.50 136.24L162.75 135.98L163.00 136.06L163.25 136.15L163.50 135.64L163.75 136.18L164.00 136.11L164.25 135.99L164.50 136.01L164.75 135.96L165.00 135.78L165.25 136.01L165.50 135.67L165.75 135.99L166.00 136.09L166.25 135.95L166.50 136.04L166.75 136.31L167.00 136.27L167.25 135.74L167.50 136.20L167.75 136.08L168.00 135.68L168.25 135.89L168.50 135.80L168.75 135.70L169.00 136.02L169.25 136.29L169.50 135.87L169.75 136.25L170.00 136.13L170.25 135.73L170.50 136.24L170.75 136.06L171.00 136.29L171.25 136.14L171.50 136.16L171.75 135.88L172.00 136.20L172.25 136.29L172.50 136.24L172.75 135.94L173.00 136.17L173.25 135.98L173.50 135.71L173.75 135.67L174.00 135.69L174.25 135.78L174.50 135.75L174.75 135.98L175.00 136.13L175.25 136.01L175.50 135.93L175.75 136.09L176.00 135.85L176.25 135.96L176.50 136.16L176.75 135.92L177.00 135.76L177.25 136.26L177.50 136.14L177.75 135.89L178.00 135.89L178.25 136.00L178.50 136.05L178.75 135.79L179.00 135.63L179.25 135.78L179.50 136.18L179.75 135.73L180.00 135.95L180.25 135.76L180.50 135.77L180.75 135.75L181.00 135.91L181.25 135.74L181.50 135.64L181.75 135.70L182.00 135.74L182.25 135.97L182.50 135.66L182.75 135.64L183.00 135.93L183.25 135.90L183.50 136.11L183.75 135.65L184.00 135.90L184.25 135.89L184.50 135.63L184.75 136.28L185.00 135.76L185.25 135.67L185.50 135.93L185.75 135.72L186.00 136.03L186.25 135.84L186.50 135.68L186.75 135.62L187.00 136.09L187.25 135.77L187.50 136.13L187.75 135.90L188.00 136.22L188.25 135.77L188.50 135.73L188.75 135.73L189.00 136.11L189.25 135.97L189.50 135.76L189.75 135.58L190.00 135.97L190.25 136.16L190.50 135.88L190.75 135.45L191.00 135.44L191.25 135.46L191.50 135.48L191.75 135.35L192.00 135.32L192.25 135.68L192.50 135.79L192.75 135.22L193.00 135.65L193.25 135.17L193.50 135.23L193.75 135.09L194.00 134.79L194.25 133.43L194.50 130.96L194.75 123.62L195.00 112.46L195.25 106.79L195.50 114.34L195.75 125.91L196.00 131.71L196.25 133.92L196.50 134.45L196.75 134.98L197.00 135.36L197.25 134.99L197.50 135.51L197.75 135.61L198.00 135.76L198.25 135.63L198.50 135.94L198.75 135.59L199.00 135.66L199.25 135.56L199.50 135.97L199.75 135.79L200.00 135.66L200.25 135.60L200.50 136.00L200.75 135.94L201.00 136.02L201.25 135.80L201.50 135.88L201.75 135.66L202.00 136.05L202.25 135.58L202.50 135.89L202.75 136.10L203.00 136.05L203.25 135.65L203.50 135.75L203.75 136.18L204.00 136.04L204.25 136.21L204.50 136.21L204.75 135.91L205.00 136.23L205.25 136.12L205.50 135.84L205.75 135.87L206.00 135.66L206.25 135.89L206.50 136.28L206.75 135.69L207.00 136.01L207.25 135.69L207.50 135.67L207.75 136.07L208.00 135.79L208.25 135.65L208.50 135.73L208.75 136.07L209.00 136.03L209.25 135.63L209.50 135.78L209.75 136.30L210.00 135.78L210.25 136.02L210.50 135.92L210.75 136.17L211.00 136.05L211.25 136.18L211.50 136.00L211.75 135.76L212.00 135.75L212.25 135.68L212.50 136.21L212.75 135.71L213.00 135.65L213.25 136.31L213.50 135.77L213.75 136.26L214.00 135.69L214.25 135.96L214.50 135.79L214.75 136.21L215.00 136.06L215.25 136.08L215.50 136.17L215.75 136.24L216.00 135.87L216.25 136.05L216.50 135.94L216.75 135.71L217.00 136.22L217.25 136.05L217.50 136.20L217.75 135.78L218.00 136.01L218.25 135.96L218.50 136.14L218.75 135.69L219.00 135.88L219.25 135.97L219.50 135.68L219.75 136.02L220.00 136.15L220.25 135.93L220.50 136.09L220.75 136.06L221.00 135.78L221.25 135.88L221.50 136.33L221.75 135.87L222.00 135.93L222.25 135.69L222.50 135.78L222.75 135.75L223.00 136.28L223.25 136.14L223.50 136.24L223.75 136.32L224.00 136.06L224.25 136.28L224.50 136.01L224.75 135.92L225.00 136.29L225.25 136.26L225.50 136.29L225.75 135.97L226.00 136.17L226.25 135.91L226.50 136.33L226.75 136.27L227.00 135.83L227.25 136.28L227.50 135.75L227.75 135.69L228.00 136.13L228.25 135.83L228.50 135.99L228.75 136.07L229.00 135.65L229.25 136.14L229.50 135.81L229.75 135.92L230.00 135.86L230.25 136.14L230.50 136.14L230.75 135.82L231.00 135.69L231.25 135.82L231.50 135.90L231.75 135.66L232.00 135.71L232.25 136.14L232.50 136.09L232.75 136.29L233.00 136.29L233.25 136.21L233.50 135.86L233.75 135.71L234.00 135.81L234.25 135.91L234.50 135.95L234.75 135.96L235.00 135.83L235.25 136.17L235.50 135.77L235.75 135.89L236.00 136.18L236.25 136.11L236.50 135.75L236.75 135.71L237.00 136.09L237.25 135.52L237.50 135.60L237.75 135.87L238.00 135.86L238.25 135.58L238.50 135.48L238.75 135.57L239.00 135.95L239.25 135.71L239.50 136.04L239.75 135.86L240.00 135.96L240.25 135.25L240.50 135.29L240.75 135.10L241.00 135.31L241.25 135.15L241.50 134.82L241.75 134.96L242.00 134.21L242.25 133.21L242.50 130.55L242.75 126.51L243.00 121.29L243.25 118.52L243.50 119.89L243.75 124.75L244.00 129.69L244.25 132.88L244.50 134.55L244.75 135.06L245.00 134.91L245.25 134.97L245.50 135.51L245.75 135.62L246.00 135.50L246.25 135.79L246.50 135.64L246.75 135.50L247.00 135.46L247.25 135.38L247.50 135.85L247.75 136.05L248.00 136.08L248.25 135.79L248.50 135.94L248.75 136.14L249.00 136.07L249.25 135.94L249.50 135.81L249.75 135.89L250.00 135.66L250.25 135.67L250.50 136.03L250.75 136.25L251.00 135.95L251.25 135.85L251.50 135.82L251.75 135.89L252.00 136.14L252.25 135.90L252.50 136.26L252.75 135.70L253.00 135.81L253.25 135.96L253.50 135.88L253.75 136.19L254.00 136.18L254.25 136.25L254.50 136.03L254.75 135.62L255.00 136.00L255.25 135.98L255.50 135.94L255.75 135.79L256.00 136.09L256.25 136.23L256.50 135.66L256.75 136.05L257.00 135.83L257.25 135.91L257.50 136.14L257.75 136.07L258.00 135.57L258.25 134.72L258.50 134.44L258.75 133.12L259.00 132.90L259.25 133.56L259.50 134.00L259.75 134.76L260.00 135.78L260.25 136.06L260.50 135.74L260.75 135.84L261.00 135.78L261.25 135.69L261.50 135.78L261.75 136.29L262.00 135.67L262.25 135.78L262.50 135.76L262.75 135.68L263.00 135.99L263.25 136.14L263.50 136.21L263.75 136.07L264.00 136.20L264.25 135.63L264.50 135.83L264.75 136.30L265.00 135.68L265.25 135.82L265.50 135.97L265.75 135.82L266.00 136.02L266.25 135.67L266.50 135.80L266.75 136.31L267.00 135.74"/>
<path stroke="#ebe22e" d="M31.00 113.69L31.25 113.48L31.50 113.52L31.75 113.11L32.00 112.63L32.25 110.80L32.50 101.82L32.75 92.12L33.00 100.79L33.25 110.34L33.50 112.91L33.75 113.18L34.00 113.35L34.25 113.48L34.50 113.67L34.75 114.26L35.00 114.25L35.25 114.28L35.50 114.32L35.75 113.92L36.00 114.02L36.25 114.27L36.50 114.35L36.75 114.45L37.00 114.48L37.25 113.93L37.50 114.30L37.75 114.36L38.00 114.25L38.25 114.02L38.50 114.23L38.75 113.97L39.00 114.56L39.25 114.52L39.50 114.30L39.75 114.13L40.00 114.56L40.25 114.32L40.50 114.54L40.75 114.52L41.00 114.28L41.25 114.22L41.50 114.35L41.75 114.23L42.00 114.04L42.25 114.14L42.50 114.50L42.75 113.96L43.00 113.97L43.25 114.37L43.50 114.13L43.75 114.31L44.00 114.27L44.25 114.18L44.50 114.64L44.75 114.07L45.00 114.23L45.25 114.08L45.50 114.38L45.75 114.13L46.00 114.19L46.25 114.46L46.50 114.16L46.75 114.33L47.00 114.57L47.25 114.01L47.50 113.98L47.75 114.10L48.00 114.48L48.25 114.37L48.50 114.11L48.75 114.17L49.00 114.07L49.25 114.26L49.50 113.97L49.75 114.43L50.00 114.57L50.25 114.61L50.50 114.46L50.75 114.61L51.00 113.96L51.25 114.15L51.50 114.62L51.75 114.49L52.00 114.23L52.25 114.60L52.50 114.38L52.75 114.52L53.00 114.15L53.25 114.08L53.50 114.25L53.75 114.04L54.00 114.21L54.25 114.62L54.50 114.18L54.75 113.95L55.00 113.97L55.25 114.06L55.50 114.49L55.75 114.20L56.00 114.15L56.25 114.01L56.50 114.63L56.75 114.24L57.00 114.09L57.25 113.98L57.50 113.98L57.75 114.06L58.00 114.42L58.25 114.05L58.50 113.97L58.75 114.28L59.00 114.11L59.25 114.64L59.50 114.03L59.75 114.31L60.00 114.48L60.25 114.22L60.50 114.63L60.75 114.27L61.00 114.10L61.25 114.22L61.50 113.95L61.75 114.22L62.00 114.10L62.25 114.54L62.50 114.49L62.75 114.25L63.00 113.91L63.25 114.04L63.50 113.96L63.75 113.66L64.00 112.72L64.25 111.27L64.50 109.12L64.75 109.77L65.00 112.44L65.25 113.59L65.50 114.40L65.75 114.12L66.00 114.50L66.25 114.35L66.50 114.46L66.75 114.43L67.00 114.27L67.25 113.99L67.50 114.08L67.75 114.54L68.00 114.56L68.25 114.58L68.50 114.17L68.75 114.40L69.00 114.50L69.25 114.39L69.50 114.51L69.75 114.31L70.00 114.40L70.25 114.42L70.50 114.13L70.75 114.59L71.00 114.61L71.25 113.99L71.50 114.62L71.75 114.62L72.00 114.41L72.25 113.97L72.50 114.57L72.75 114.03L73.00 114.62L73.25 114.41L73.50 113.98L73.75 114.06L74.00 114.39L74.25 114.34L74.50 114.47L74.75 114.59L75.00 114.10L75.25 113.94L75.50 114.59L75.75 113.95L76.00 114.56L76.25 114.02L76.50 114.51L76.75 114.49L77.00 114.56L77.25 114.33L77.50 114.56L77.75 114.08L78.00 114.41L78.25 114.17L78.50 114.57L78.75 114.48L79.00 114.27L79.25 114.31L79.50 113.96L79.75 113.96L80.00 114.36L80.25 114.28L80.50 114.55L80.75 114.37L81.00 114.04L81.25 114.19L81.50 114.48L81.75 114.30L82.00 113.95L82.25 114.52L82.50 114.52L82.75 114.00L83.00 114.32L83.25 114.20L83.50 114.49L83.75 114.15L84.00 114.10L84.25 114.28L84.50 114.61L84.75 114.00L85.00 114.01L85.25 114.37L85.50 114.55L85.75 114.29L86.00 114.23L86.25 114.53L86.50 114.47L86.75 113.97L87.00 114.54L87.25 114.06L87.50 114.13L87.75 114.51L88.00 114.21L88.25 114.47L88.50 114.03L88.75 114.52L89.00 114.03L89.25 114.01L89.50 114.25L89.75 114.13L90.00 114.27L90.25 114.52L90.50 114.37L90.75 113.87L91.00 114.08L91.25 114.23L91.50 114.17L91.75 114.31L92.00 114.12L92.25 113.78L92.50 113.81L92.75 114.04L93.00 113.32L93.25 112.92L93.50 111.97L93.75 110.21L94.00 108.54L94.25 107.02L94.50 106.12L94.75 106.97L95.00 107.99L95.25 109.98L95.50 111.11L95.75 112.67L96.00 113.34L96.25 113.56L96.50 113.38L96.75 112.43L97.00 110.94L97.25 107.51L97.50 104.83L97.75 104.34L98.00 107.09L98.25 110.38L98.50 112.94L98.75 113.42L99.00 114.24L99.25 113.98L99.50 114.17L99.75 114.05L100.00 114.26L100.25 113.91L100.50 114.14L100.75 114.52L101.00 114.00L101.25 114.34L101.50 114.12L101.75 114.10L102.00 113.91L102.25 113.92L102.50 114.57L102.75 114.49L103.00 114.47L103.25 114.48L103.50 114.58L103.75 114.03L104.00 114.33L104.25 114.26L104.50 114.32L104.75 114.58L105.00 114.45L105.25 114.60L105.50 114.00L105.75 114.38L106.00 114.39L106.25 114.44L106.50 114.35L106.75 114.50L107.00 114.13L107.25 114.57L107.50 114.20L107.75 114.33L108.00 114.54L108.25 114.40L108.50 114.12L108.75 114.06L109.00 114.12L109.25 114.32L109.50 114.56L109.75 114.46L110.00 114.06L110.25 113.88L110.50 113.09L110.75 109.41L111.00 107.20L111.25 109.97L111.50 112.94L111.75 113.92L112.00 114.00L112.25 113.07L112.50 109.19L112.75 104.78L113.00 107.00L113.25 111.67L113.50 113.44L113.75 114.39L114.00 114.47L114.25 114.46L114.50 114.26L114.75 114.07L115.00 113.92L115.25 114.04L115.50 114.01L115.75 114.50L116.00 114.46L116.25 114.36L116.50 113.87L116.75 113.85L117.00 113.75L117.25 114.01L117.50 113.19L117.75 113.30L118.00 112.87L118.25 112.46L118.50 112.53L118.75 111.99L119.00 112.28L119.25 112.14L119.50 111.92L119.75 110.86L120.00 108.81L120.25 105.92L120.50 104.75L120.75 107.23L121.00 109.80L121.25 112.58L121.50 113.63L121.75 114.09L122.00 114.18L122.25 114.44L122.50 114.43L122.75 114.34L123.00 114.24L123.25 114.35L123.50 114.38L123.75 114.27L124.00 114.24L124.25 114.00L124.50 114.49L124.75 114.24L125.00 113.95L125.25 114.03L125.50 114.52L125.75 114.09L126.00 114.19L126.25 114.39L126.50 114.52L126.75 114.14L127.00 114.18L127.25 114.21L127.50 113.93L127.75 114.52L128.00 113.91L128.25 114.56L128.50 113.99L128.75 113.98L129.00 114.44L129.25 114.38L129.50 113.82L129.75 113.35L130.00 111.20L130.25 108.73L130.50 108.79L130.75 111.98L131.00 113.68L131.25 113.27L131.50 111.59L131.75 109.63L132.00 110.13L132.25 112.78L132.50 114.02L132.75 114.18L133.00 113.92L133.25 114.30L133.50 114.52L133.75 114.11L134.00 114.36L134.25 114.54L134.50 114.34L134.75 113.95L135.00 114.37L135.25 114.11L135.50 114.53L135.75 114.39L136.00 114.15L136.25 114.56L136.50 114.37L136.75 114.17L137.00 114.52L137.25 114.56L137.50 114.56L137.75 114.56L138.00 114.40L138.25 114.43L138.50 114.36L138.75 114.31L139.00 114.63L139.25 114.19L139.50 114.00L139.75 114.44L140.00 114.29L140.25 114.32L140.50 114.36L140.75 114.12L141.00 114.08L141.25 113.99L141.50 114.49L141.75 114.58L142.00 114.43L142.25 114.02L142.50 114.63L142.75 114.52L143.00 114.30L143.25 113.94L143.50 114.53L143.75 114.38L144.00 114.38L144.25 113.96L144.50 114.46L144.75 113.97L145.00 114.28L145.25 114.05L145.50 114.20L145.75 114.57L146.00 114.47L146.25 114.52L146.50 114.15L146.75 114.22L147.00 114.37L147.25 113.97L147.50 114.23L147.75 114.63L148.00 114.47L148.25 114.55L148.50 114.15L148.75 114.43L149.00 114.50L149.25 114.44L149.50 114.25L149.75 114.07L150.00 113.96L150.25 114.57L150.50 114.60L150.75 114.14L151.00 114.47L151.25 114.23L151.50 114.38L151.75 114.53L152.00 114.17L152.25 114.38L152.50 114.12L152.75 114.30L153.00 113.97L153.25 114.13L153.50 114.15L153.75 114.58L154.00 114.04L154.25 114.48L154.50 114.01L154.75 114.63L155.00 114.06L155.25 114.01L155.50 114.09L155.75 114.60L156.00 114.41L156.25 114.57L156.50 114.29L156.75 114.02L157.00 114.18L157.25 114.26L157.50 114.64L157.75 114.06L158.00 114.11L158.25 114.53L158.50 114.02L158.75 114.62L159.00 114.15L159.25 114.34L159.50 114.41L159.75 114.58L160.00 114.00L160.25 114.53L160.50 114.07L160.75 114.44L161.00 113.96L161.25 114.48L161.50 114.07L161.75 114.08L162.00 113.96L162.25 114.16L162.50 114.17L162.75 114.62L163.00 114.36L163.25 114.19L163.50 114.62L163.75 114.04L164.00 114.07L164.25 114.57L164.50 114.53L164.75 114.28L165.00 114.38L165.25 113.58L165.50 113.96L165.75 113.62L166.00 113.44L166.25 113.54L166.50 113.14L166.75 113.40L167.00 113.57L167.25 113.99L167.50 114.16L167.75 114.23L168.00 114.15L168.25 114.43L168.50 114.51L168.75 114.46L169.00 113.96L169.25 114.04L169.50 114.09L169.75 114.10L170.00 114.34L170.25 114.07L170.50 114.37L170.75 114.18L171.00 114.19L171.25 114.43L171.50 114.60L171.75 114.07L172.00 114.18L172.25 114.63L172.50 114.09L172.75 113.96L173.00 114.07L173.25 114.52L173.50 114.45L173.75 114.60L174.00 114.29L174.25 113.97L174.50 114.16L174.75 114.44L175.00 114.22L175.25 114.04L175.50 114.20L175.75 114.27L176.00 114.19L176.25 114.25L176.50 114.04L176.75 113.96L177.00 114.49L177.25 114.45L177.50 114.23L177.75 114.02L178.00 114.15L178.25 114.33L178.50 114.57L178.75 114.28L179.00 114.62L179.25 114.31L179.50 114.07L179.75 114.37L180.00 114.36L180.25 114.36L180.50 114.45L180.75 113.95L181.00 114.24L181.25 114.50L181.50 114.04L181.75 113.97L182.00 114.07L182.25 114.14L182.50 114.24L182.75 114.16L183.00 114.38L183.25 114.06L183.50 114.18L183.75 114.41L184.00 114.32L184.25 114.61L184.50 114.59L184.75 114.11L185.00 114.17L185.25 114.31L185.50 114.31L185.75 114.19L186.00 114.53L186.25 114.07L186.50 114.26L186.75 114.01L187.00 114.54L187.25 114.34L187.50 114.61L187.75 114.02L188.00 114.42L188.25 114.34L188.50 113.95L188.75 114.49L189.00 114.52L189.25 113.97L189.50 114.57L189.75 114.45L190.00 114.32L190.25 114.27L190.50 114.07L190.75 113.92L191.00 114.21L191.25 114.47L191.50 114.00L191.75 114.17L192.00 114.03L192.25 114.29L192.50 114.45L192.75 114.37L193.00 113.88L193.25 113.84L193.50 113.27L193.75 113.10L194.00 112.36L194.25 110.86L194.50 108.35L194.75 106.49L195.00 104.56L195.25 104.25L195.50 105.43L195.75 106.82L196.00 109.34L196.25 111.30L196.50 112.58L196.75 113.01L197.00 113.99L197.25 114.23L197.50 114.39L197.75 113.76L198.00 113.79L198.25 114.02L198.50 114.19L198.75 114.14L199.00 113.92L199.25 114.31L199.50 114.34L199.75 114.32L200.00 114.24L200.25 114.28L200.50 114.38L200.75 113.94L201.00 114.21L201.25 114.00L201.50 113.98L201.75 114.44L202.00 114.14L202.25 114.15L202.50 114.11L202.75 114.33L203.00 114.00L203.25 114.37L203.50 113.97L203.75 114.59L204.00 114.03L204.25 114.46L204.50 114.30L204.75 114.22L205.00 114.13L205.25 114.17L205.50 114.45L205.75 114.29L206.00 114.29L206.25 114.09L206.50 114.35L206.75 114.03L207.00 114.25L207.25 114.36L207.50 114.27L207.75 114.27L208.00 114.21L208.25 113.85L208.50 114.24L208.75 113.85L209.00 113.67L209.25 113.66L209.50 113.25L209.75 113.25L210.00 113.41L210.25 113.63L210.50 113.81L210.75 113.96L211.00 113.97L211.25 114.21L211.50 114.10L211.75 114.17L212.00 114.38L212.25 114.14L212.50 114.52L212.75 114.48L213.00 114.15L213.25 114.51L213.50 114.05L213.75 113.99L214.00 114.62L214.25 113.95L214.50 113.93L214.75 114.53L215.00 113.93L215.25 114.39L215.50 114.32L215.75 114.08L216.00 114.10L216.25 114.60L216.50 114.20L216.75 114.10L217.00 114.24L217.25 114.44L217.50 114.13L217.75 113.99L218.00 114.48L218.25 113.99L218.50 113.96L218.75 113.93L219.00 114.62L219.25 114.23L219.50 114.44L219.75 114.31L220.00 114.61L220.25 114.16L220.50 114.17L220.75 114.40L221.00 113.92L221.25 114.17L221.50 114.45L221.75 114.32L222.00 114.26L222.25 114.57L222.50 114.22L222.75 114.42L223.00 114.18L223.25 113.97L223.50 114.17L223.75 114.04L224.00 113.91L224.25 114.07L224.50 113.92L224.75 114.08L225.00 114.15L225.25 113.99L225.50 113.87L225.75 113.27L226.00 113.40L226.25 113.56L226.50 113.35L226.75 113.92L227.00 113.55L227.25 114.29L227.50 114.38L227.75 114.51L228.00 114.44L228.25 114.37L228.50 114.19L228.75 114.39L229.00 114.50L229.25 114.29L229.50 114.32L229.75 114.53L230.00 114.08L230.25 114.12L230.50 113.91L230.75 114.50L231.00 114.32L231.25 114.35L231.50 114.04L231.75 114.00L232.00 114.21L232.25 114.48L232.50 114.11L232.75 114.16L233.00 114.15L233.25 114.45L233.50 113.94L233.75 114.45L234.00 113.85L234.25 114.33L234.50 114.37L234.75 114.15L235.00 114.34L235.25 114.01L235.50 113.90L235.75 114.05L236.00 113.97L236.25 114.28L236.50 114.16L236.75 114.21L237.00 114.42L237.25 114.26L237.50 114.26L237.75 114.36L238.00 114.31L238.25 114.16L238.50 113.85L238.75 113.93L239.00 114.07L239.25 114.05L239.50 114.08L239.75 113.91L240.00 113.79L240.25 113.42L240.50 113.58L240.75 113.16L241.00 113.35L241.25 112.85L241.50 112.53L241.75 112.80L242.00 111.76L242.25 108.57L242.50 101.81L242.75 91.09L243.00 78.40L243.25 71.15L243.50 75.50L243.75 87.27L244.00 99.33L244.25 107.10L244.50 110.63L244.75 111.98L245.00 112.73L245.25 113.16L245.50 113.28L245.75 113.13L246.00 113.65L246.25 113.23L246.50 113.70L246.75 113.46L247.00 113.40L247.25 113.58L247.50 114.05L247.75 113.68L248.00 113.57L248.25 113.92L248.50 113.85L248.75 114.02L249.00 114.04L249.25 114.15L249.50 114.30L249.75 113.91L250.00 114.13L250.25 113.77L250.50 113.87L250.75 113.76L251.00 114.30L251.25 113.93L251.50 114.19L251.75 114.31L252.00 113.96L252.25 113.83L252.50 113.85L252.75 114.01L253.00 113.93L253.25 113.69L253.50 114.22L253.75 114.05L254.00 114.20L254.25 114.15L254.50 114.04L254.75 114.07L255.00 113.95L255.25 113.71L255.50 113.92L255.75 113.93L256.00 113.28L256.25 113.21L256.50 113.11L256.75 113.18L257.00 113.30L257.25 112.84L257.50 112.70L257.75 111.44L258.00 109.12L258.25 103.42L258.50 94.81L258.75 85.27L259.00 80.92L259.25 85.18L259.50 94.53L259.75 103.69L260.00 108.85L260.25 111.81L260.50 112.67L260.75 112.59L261.00 113.25L261.25 113.53L261.50 113.69L261.75 113.61L262.00 113.50L262.25 113.69L262.50 113.84L262.75 113.87L263.00 113.62L263.25 114.15L263.50 113.95L263.75 113.66L264.00 113.85L264.25 113.72L264.50 114.01L264.75 113.77L265.00 114.09L265.25 113.93L265.50 114.33L265.75 114.30L266.00 113.91L266.25 114.35L266.50 114.20L266.75 113.99L267.00 114.45"/>
<path stroke="#ff9040" d="M31.00 93.07L31.25 93.11L31.50 93.07L31.75 92.96L32.00 91.95L32.25 89.34L32.50 83.89L32.75 81.08L33.00 84.19L33.25 88.87L33.50 91.95L33.75 92.35L34.00 92.84L34.25 92.76L34.50 93.01L34.75 93.05L35.00 92.68L35.25 92.84L35.50 92.89L35.75 93.34L36.00 93.24L36.25 92.83L36.50 93.28L36.75 92.82L37.00 93.15L37.25 92.81L37.50 92.73L37.75 93.34L38.00 92.87L38.25 92.88L38.50 93.41L38.75 93.33L39.00 92.92L39.25 93.39L39.50 93.07L39.75 93.11L40.00 92.56L40.25 92.56L40.50 91.81L40.75 92.03L41.00 92.57L41.25 92.65L41.50 92.89L41.75 92.81L42.00 92.81L42.25 92.76L42.50 92.92L42.75 93.13L43.00 92.70L43.25 93.16L43.50 92.86L43.75 92.60L44.00 92.28L44.25 91.01L44.50 90.49L44.75 91.39L45.00 92.51L45.25 92.55L45.50 93.34L45.75 92.71L46.00 93.24L46.25 93.31L46.50 92.74L46.75 93.28L47.00 92.99L47.25 93.14L47.50 92.74L47.75 92.77L48.00 92.87L48.25 93.41L48.50 92.88L48.75 93.27L49.00 93.39L49.25 93.40L49.50 92.98L49.75 92.99L50.00 93.11L50.25 93.29L50.50 92.82L50.75 93.27L51.00 93.30L51.25 93.35L51.50 92.77L51.75 93.41L52.00 92.81L52.25 92.98L52.50 93.17L52.75 93.39L53.00 92.98L53.25 93.39L53.50 93.13L53.75 92.96L54.00 92.97L54.25 92.87L54.50 92.80L54.75 92.85L55.00 93.23L55.25 93.44L55.50 92.86L55.75 92.78L56.00 93.43L56.25 93.12L56.50 93.03L56.75 92.91L57.00 93.16L57.25 93.32L57.50 93.06L57.75 93.04L58.00 92.78L58.25 93.38L58.50 92.77L58.75 93.09L59.00 93.33L59.25 92.83L59.50 93.25L59.75 93.41L60.00 93.18L60.25 93.29L60.50 92.81L60.75 93.04L61.00 92.84L61.25 93.33L61.50 92.94L61.75 93.05L62.00 93.43L62.25 93.32L62.50 93.41L62.75 93.03L63.00 93.05L63.25 93.20L63.50 92.99L63.75 92.69L64.00 92.20L64.25 90.87L64.50 90.05L64.75 90.91L65.00 92.12L65.25 92.73L65.50 92.95L65.75 92.92L66.00 92.76L66.25 92.90L66.50 93.27L66.75 93.33L67.00 92.98L67.25 93.28L67.50 93.28L67.75 93.22L68.00 93.20L68.25 93.27L68.50 92.99L68.75 93.23L69.00 92.94L69.25 93.08L69.50 93.28L69.75 93.22L70.00 92.95L70.25 93.40L70.50 93.20L70.75 93.15L71.00 92.75L71.25 93.12L71.50 92.92L71.75 93.21L72.00 93.07L72.25 93.31L72.50 93.19L72.75 93.30L73.00 92.98L73.25 93.19L73.50 93.26L73.75 93.32L74.00 92.99L74.25 93.33L74.50 93.35L74.75 93.22L75.00 93.42L75.25 93.41L75.50 93.10L75.75 93.11L76.00 92.86L76.25 93.33L76.50 93.40L76.75 93.07L77.00 93.22L77.25 93.24L77.50 93.25L77.75 92.86L78.00 93.29L78.25 93.15L78.50 93.20L78.75 93.03L79.00 93.17L79.25 93.28L79.50 93.18L79.75 93.24L80.00 92.76L80.25 92.85L80.50 93.05L80.75 93.19L81.00 92.89L81.25 93.22L81.50 93.18L81.75 92.76L82.00 93.06L82.25 92.89L82.50 92.77L82.75 92.83L83.00 92.95L83.25 92.86L83.50 92.87L83.75 92.76L84.00 93.06L84.25 92.99L84.50 93.16L84.75 93.14L85.00 92.89L85.25 93.36L85.50 92.72L85.75 93.01L86.00 92.92L86.25 93.01L86.50 92.80L86.75 93.30L87.00 92.98L87.25 92.74L87.50 93.14L87.75 92.78L88.00 93.09L88.25 92.94L88.50 93.11L88.75 93.37L89.00 93.27L89.25 92.99L89.50 93.26L89.75 93.13L90.00 92.94L90.25 92.77L90.50 93.08L90.75 93.05L91.00 93.31L91.25 93.31L91.50 93.04L91.75 92.84L92.00 93.19L92.25 92.50L92.50 92.47L92.75 92.60L93.00 92.30L93.25 91.43L93.50 91.03L93.75 90.30L94.00 88.99L94.25 88.25L94.50 87.74L94.75 87.98L95.00 89.11L95.25 89.57L95.50 90.84L95.75 91.50L96.00 91.74L96.25 91.72L96.50 92.22L96.75 91.67L97.00 90.78L97.25 85.32L97.50 72.26L97.75 71.03L98.00 84.49L98.25 90.74L98.50 91.53L98.75 92.22L99.00 92.32L99.25 92.38L99.50 92.83L99.75 92.95L100.00 92.44L100.25 92.85L100.50 92.71L100.75 93.20L101.00 93.12L101.25 92.76L101.50 92.79L101.75 92.73L102.00 93.32L102.25 92.85L102.50 93.07L102.75 92.99L103.00 93.11L103.25 93.09L103.50 93.19L103.75 92.76L104.00 93.21L104.25 92.89L104.50 93.05L104.75 92.92L105.00 92.89L105.25 93.05L105.50 93.01L105.75 92.94L106.00 93.21L106.25 93.10L106.50 92.71L106.75 92.86L107.00 93.00L107.25 93.32L107.50 93.29L107.75 93.05L108.00 92.68L108.25 93.20L108.50 92.95L108.75 93.05L109.00 93.13L109.25 93.07L109.50 92.94L109.75 93.23L110.00 92.83L110.25 92.81L110.50 93.09L110.75 92.58L111.00 92.57L111.25 92.84L111.50 92.16L111.75 92.47L112.00 91.71L112.25 87.56L112.50 78.37L112.75 79.01L113.00 88.17L113.25 91.37L113.50 92.22L113.75 92.49L114.00 92.60L114.25 92.58L114.50 92.53L114.75 92.88L115.00 93.07L115.25 92.58L115.50 92.71L115.75 93.13L116.00 93.12L116.25 93.03L116.50 92.59L116.75 93.07L117.00 93.24L117.25 93.24L117.50 93.01L117.75 92.53L118.00 93.05L118.25 92.57L118.50 92.80L118.75 92.93L119.00 92.63L119.25 92.05L119.50 91.90L119.75 91.83L120.00 88.58L120.25 78.03L120.50 69.59L120.75 80.15L121.00 89.80L121.25 91.36L121.50 91.83L121.75 92.27L122.00 92.22L122.25 92.34L122.50 92.79L122.75 92.97L123.00 93.11L123.25 92.63L123.50 92.87L123.75 92.81L124.00 93.03L124.25 92.97L124.50 93.29L124.75 92.91L125.00 92.69L125.25 93.15L125.50 92.78L125.75 93.12L126.00 93.03L126.25 93.32L126.50 93.08L126.75 93.13L127.00 92.88L127.25 93.08L127.50 92.87L127.75 93.22L128.00 93.06L128.25 92.79L128.50 92.85L128.75 92.94L129.00 93.18L129.25 92.76L129.50 93.00L129.75 92.48L130.00 91.02L130.25 90.32L130.50 90.10L130.75 91.33L131.00 92.60L131.25 92.73L131.50 93.27L131.75 93.02L132.00 92.92L132.25 93.26L132.50 92.73L132.75 93.22L133.00 92.76L133.25 92.83L133.50 93.39L133.75 93.20L134.00 92.88L134.25 92.81L134.50 93.41L134.75 93.20L135.00 93.31L135.25 92.83L135.50 93.17L135.75 92.98L136.00 92.90L136.25 92.97L136.50 93.16L136.75 92.98L137.00 93.01L137.25 92.83L137.50 93.32L137.75 93.19L138.00 93.30L138.25 93.04L138.50 93.33L138.75 93.10L139.00 93.15L139.25 93.14L139.50 93.26L139.75 93.02L140.00 92.81L140.25 92.76L140.50 92.88L140.75 92.77L141.00 93.36L141.25 93.08L141.50 93.27L141.75 92.74L142.00 93.07L142.25 93.36L142.50 93.17L142.75 93.04L143.00 93.07L143.25 92.81L143.50 92.85L143.75 92.85L144.00 93.00L144.25 93.01L144.50 93.36L144.75 92.85L145.00 92.92L145.25 92.94L145.50 92.86L145.75 92.94L146.00 92.91L146.25 93.08L146.50 92.76L146.75 93.39L147.00 93.00L147.25 93.40L147.50 93.22L147.75 93.21L148.00 93.07L148.25 93.40L148.50 92.83L148.75 93.21L149.00 92.95L149.25 93.21L149.50 93.25L149.75 92.86L150.00 92.88L150.25 92.76L150.50 92.90L150.75 92.80L151.00 93.02L151.25 93.42L151.50 93.00L151.75 92.96L152.00 93.07L152.25 92.94L152.50 93.26L152.75 93.25L153.00 92.86L153.25 92.91L153.50 93.21L153.75 93.40L154.00 93.20L154.25 93.04L154.50 93.43L154.75 92.75L155.00 92.79L155.25 93.29L155.50 93.03L155.75 92.77L156.00 93.13L156.25 93.44L156.50 93.11L156.75 92.99L157.00 92.81L157.25 92.79L157.50 93.37L157.75 93.09L158.00 93.40L158.25 92.78L158.50 92.91L158.75 92.78L159.00 93.02L159.25 92.79L159.50 92.92L159.75 93.03L160.00 92.96L160.25 92.78L160.50 92.77L160.75 93.42L161.00 92.87L161.25 93.10L161.50 93.02L161.75 93.11L162.00 92.80L162.25 92.96L162.50 92.82L162.75 93.12L163.00 93.39L163.25 93.16L163.50 93.34L163.75 92.89L164.00 92.75L164.25 93.12L164.50 93.08L164.75 93.14L165.00 93.01L165.25 93.18L165.50 93.25L165.75 93.38L166.00 92.96L166.25 93.06L166.50 93.32L166.75 92.90L167.00 92.82L167.25 92.96L167.50 92.80L167.75 93.28L168.00 93.31L168.25 92.96L168.50 92.83L168.75 92.80L169.00 92.91L169.25 92.80L169.50 93.04L169.75 93.14L170.00 92.91L170.25 92.78L170.50 93.23L170.75 92.77L171.00 92.88L171.25 92.94L171.50 93.00L171.75 92.81L172.00 93.03L172.25 92.96L172.50 93.27L172.75 93.13L173.00 93.37L173.25 93.20L173.50 93.27L173.75 93.14L174.00 93.05L174.25 93.31L174.50 93.20L174.75 93.41L175.00 93.25L175.25 93.23L175.50 92.92L175.75 93.31L176.00 93.00L176.25 92.83L176.50 92.78L176.75 92.85L177.00 92.92L177.25 93.21L177.50 92.93L177.75 92.78L178.00 93.27L178.25 93.12L178.50 92.75L178.75 92.77L179.00 92.82L179.25 92.98L179.50 93.33L179.75 93.40L180.00 93.16L180.25 92.89L180.50 93.03L180.75 92.98L181.00 92.96L181.25 92.74L181.50 93.14L181.75 93.31L182.00 93.23L182.25 92.79L182.50 93.10L182.75 92.84L183.00 93.22L183.25 93.03L183.50 93.38L183.75 93.28L184.00 92.80L184.25 92.94L184.50 93.36L184.75 93.04L185.00 93.02L185.25 93.02L185.50 93.25L185.75 93.36L186.00 93.08L186.25 93.38L186.50 93.12L186.75 92.77L187.00 93.27L187.25 92.99L187.50 92.73L187.75 93.37L188.00 92.70L188.25 93.08L188.50 93.01L188.75 93.28L189.00 92.93L189.25 92.80L189.50 92.84L189.75 92.78L190.00 93.02L190.25 92.86L190.50 93.12L190.75 92.75L191.00 92.81L191.25 92.72L191.50 93.21L191.75 93.08L192.00 93.05L192.25 92.84L192.50 92.63L192.75 92.39L193.00 92.79L193.25 92.44L193.50 91.99L193.75 91.90L194.00 91.61L194.25 91.47L194.50 89.54L194.75 83.23L195.00 74.87L195.25 70.63L195.50 76.59L195.75 85.32L196.00 90.02L196.25 91.71L196.50 91.86L196.75 91.83L197.00 92.35L197.25 92.53L197.50 92.35L197.75 92.57L198.00 92.59L198.25 92.44L198.50 92.68L198.75 92.76L199.00 92.86L199.25 93.04L199.50 92.85L199.75 93.27L200.00 93.17L200.25 93.26L200.50 93.11L200.75 93.10L201.00 93.02L201.25 93.21L201.50 92.91L201.75 93.08L202.00 93.14L202.25 93.04L202.50 92.88L202.75 92.74L203.00 92.75L203.25 92.94L203.50 93.10L203.75 93.23L204.00 93.20L204.25 92.91L204.50 93.35L204.75 92.90L205.00 93.21L205.25 92.76L205.50 93.24L205.75 93.18L206.00 93.38L206.25 93.34L206.50 93.20L206.75 93.30L207.00 93.23L207.25 93.14L207.50 92.86L207.75 93.08L208.00 93.35L208.25 92.89L208.50 93.40L208.75 93.10L209.00 93.00L209.25 92.72L209.50 93.00L209.75 92.85L210.00 93.18L210.25 93.35L210.50 93.36L210.75 93.15L211.00 93.00L211.25 92.80L211.50 93.21L211.75 93.11L212.00 93.23L212.25 92.99L212.50 93.35L212.75 92.87L213.00 92.94L213.25 92.91L213.50 93.16L213.75 93.35L214.00 92.84L214.25 93.17L214.50 93.26L214.75 92.88L215.00 92.77L215.25 93.12L215.50 93.31L215.75 93.34L216.00 93.24L216.25 93.02L216.50 93.02L216.75 93.10L217.00 93.36L217.25 92.94L217.50 92.92L217.75 93.15L218.00 93.40L218.25 92.86L218.50 92.75L218.75 92.80L219.00 93.12L219.25 93.15L219.50 92.85L219.75 92.85L220.00 93.14L220.25 93.17L220.50 93.20L220.75 93.23L221.00 92.76L221.25 93.06L221.50 93.30L221.75 93.39L222.00 92.94L222.25 93.31L222.50 93.16L222.75 93.36L223.00 92.87L223.25 93.19L223.50 93.29L223.75 93.03L224.00 92.76L224.25 92.80L224.50 92.74L224.75 92.62L225.00 92.54L225.25 92.69L225.50 92.12L225.75 92.38L226.00 92.24L226.25 92.31L226.50 92.44L226.75 92.58L227.00 92.93L227.25 93.12L227.50 93.00L227.75 93.30L228.00 92.73L228.25 92.75L228.50 92.73L228.75 92.83L229.00 92.95L229.25 93.01L229.50 93.16L229.75 93.21L230.00 92.74L230.25 92.97L230.50 93.06L230.75 92.94L231.00 92.76L231.25 93.10L231.50 92.94L231.75 93.15L232.00 93.02L232.25 93.34L232.50 93.33L232.75 92.71L233.00 93.19L233.25 93.16L233.50 92.86L233.75 92.73L234.00 92.98L234.25 92.89L234.50 93.15L234.75 93.27L235.00 92.89L235.25 92.82L235.50 92.95L235.75 93.08L236.00 93.14L236.25 92.98L236.50 92.77L236.75 92.79L237.00 93.13L237.25 92.89L237.50 92.54L237.75 92.78L238.00 92.63L238.25 92.91L238.50 92.46L238.75 92.57L239.00 92.41L239.25 92.64L239.50 92.94L239.75 92.57L240.00 92.40L240.25 92.70L240.50 92.01L240.75 92.08L241.00 92.27L241.25 91.54L241.50 91.85L241.75 91.19L242.00 89.97L242.25 87.34L242.50 80.90L242.75 69.59L243.00 57.03L243.25 49.88L243.50 53.89L243.75 66.17L244.00 78.04L244.25 86.04L244.50 89.46L244.75 90.94L245.00 91.89L245.25 91.95L245.50 92.00L245.75 91.82L246.00 92.18L246.25 92.54L246.50 92.39L246.75 92.57L247.00 92.84L247.25 92.71L247.50 92.75L247.75 92.36L248.00 92.38L248.25 92.93L248.50 92.71L248.75 93.05L249.00 93.03L249.25 93.11L249.50 92.75L249.75 93.19L250.00 93.03L250.25 93.13L250.50 92.62L250.75 93.06L251.00 92.81L251.25 93.20L251.50 93.22L251.75 92.67L252.00 92.81L252.25 92.70L252.50 92.84L252.75 92.70L253.00 92.96L253.25 92.57L253.50 92.59L253.75 92.78L254.00 92.50L254.25 92.69L254.50 93.03L254.75 92.99L255.00 92.48L255.25 92.32L255.50 92.84L255.75 92.88L256.00 92.56L256.25 92.16L256.50 92.14L256.75 92.51L257.00 92.39L257.25 91.58L257.50 91.41L257.75 90.94L258.00 89.15L258.25 85.80L258.50 79.58L258.75 73.64L259.00 70.42L259.25 73.34L259.50 79.84L259.75 85.65L260.00 88.97L260.25 90.70L260.50 91.74L260.75 91.83L261.00 92.01L261.25 92.22L261.50 92.40L261.75 92.76L262.00 92.34L262.25 92.63L262.50 92.47L262.75 92.72L263.00 92.89L263.25 92.51L263.50 92.78L263.75 92.96L264.00 92.50L264.25 93.05L264.50 92.83L264.75 92.90L265.00 92.99L265.25 93.13L265.50 92.63L265.75 92.95L266.00 92.63L266.25 92.89L266.50 92.87L266.75 92.65L267.00 92.84"/>
<path stroke="#ff1a8c" d="M31.00 71.87L31.25 71.84L31.50 71.50L31.75 70.99L32.00 69.65L32.25 67.31L32.50 63.12L32.75 60.98L33.00 62.79L33.25 67.13L33.50 69.70L33.75 71.33L34.00 71.66L34.25 71.55L34.50 71.68L34.75 71.82L35.00 71.49L35.25 71.76L35.50 71.95L35.75 71.58L36.00 71.96L36.25 71.89L36.50 72.00L36.75 71.65L37.00 71.48L37.25 71.98L37.50 71.98L37.75 71.73L38.00 71.49L38.25 71.56L38.50 71.86L38.75 71.62L39.00 72.08L39.25 71.81L39.50 71.51L39.75 71.74L40.00 71.32L40.25 71.40L40.50 71.10L40.75 70.84L41.00 71.22L41.25 71.57L41.50 71.84L41.75 72.04L42.00 71.40L42.25 71.64L42.50 71.80L42.75 71.58L43.00 71.76L43.25 71.35L43.50 71.70L43.75 70.79L44.00 69.05L44.25 67.61L44.50 66.70L44.75 67.91L45.00 69.93L45.25 70.84L45.50 71.34L45.75 71.93L46.00 71.85L46.25 71.39L46.50 71.94L46.75 71.42L47.00 71.65L47.25 72.05L47.50 71.86L47.75 71.64L48.00 71.69L48.25 71.70L48.50 71.52L48.75 72.13L49.00 71.47L49.25 71.73L49.50 71.96L49.75 71.72L50.00 72.13L50.25 71.61L50.50 72.13L50.75 72.06L51.00 71.91L51.25 72.06L51.50 71.75L51.75 72.02L52.00 72.00L52.25 71.80L52.50 71.77L52.75 71.94L53.00 71.73L53.25 71.50L53.50 71.97L53.75 71.63L54.00 71.78L54.25 71.99L54.50 71.56L54.75 71.46L55.00 71.53L55.25 71.86L55.50 71.70L55.75 71.62L56.00 71.76L56.25 72.09L56.50 71.62L56.75 71.73L57.00 72.06L57.25 71.87L57.50 71.63L57.75 71.77L58.00 71.78L58.25 71.54L58.50 71.71L58.75 71.66L59.00 72.00L59.25 71.67L59.50 71.90L59.75 72.12L60.00 72.09L60.25 71.70L60.50 71.86L60.75 71.66L61.00 71.72L61.25 71.78L61.50 71.99L61.75 72.09L62.00 71.63L62.25 71.43L62.50 71.74L62.75 71.46L63.00 71.43L63.25 71.92L63.50 71.38L63.75 71.57L64.00 70.84L64.25 70.58L64.50 70.06L64.75 69.70L65.00 70.43L65.25 71.55L65.50 71.65L65.75 71.65L66.00 71.94L66.25 71.98L66.50 71.76L66.75 71.75L67.00 71.50L67.25 71.68L67.50 71.53L67.75 71.87L68.00 71.86L68.25 71.54L68.50 71.88L68.75 71.51L69.00 71.51L69.25 71.89L69.50 71.76L69.75 72.07L70.00 71.88L70.25 71.93L70.50 71.53L70.75 72.02L71.00 71.50L71.25 71.87L71.50 72.08L71.75 72.08L72.00 72.07L72.25 71.76L72.50 71.93L72.75 72.00L73.00 71.54L73.25 72.10L73.50 72.08L73.75 71.75L74.00 71.99L74.25 71.75L74.50 71.63L74.75 71.94L75.00 71.49L75.25 72.00L75.50 72.13L75.75 71.64L76.00 72.10L76.25 71.50L76.50 72.04L76.75 71.64L77.00 72.12L77.25 71.74L77.50 72.09L77.75 71.46L78.00 71.50L78.25 72.01L78.50 71.89L78.75 71.81L79.00 71.46L79.25 71.56L79.50 71.70L79.75 71.47L80.00 72.13L80.25 71.97L80.50 72.10L80.75 71.93L81.00 71.68L81.25 71.49L81.50 71.95L81.75 71.52L82.00 71.82L82.25 71.76L82.50 71.78L82.75 71.49L83.00 71.49L83.25 71.80L83.50 71.45L83.75 71.80L84.00 71.54L84.25 71.63L84.50 71.54L84.75 71.83L85.00 71.70L85.25 71.58L85.50 71.58L85.75 71.82L86.00 72.06L86.25 71.72L86.50 71.54L86.75 71.64L87.00 71.59L87.25 71.82L87.50 71.97L87.75 71.82L88.00 71.55L88.25 71.64L88.50 71.68L88.75 71.72L89.00 71.69L89.25 72.10L89.50 71.79L89.75 71.86L90.00 71.90L90.25 71.84L90.50 71.95L90.75 71.64L91.00 71.84L91.25 72.05L91.50 71.47L91.75 71.78L92.00 71.60L92.25 71.36L92.50 71.32L92.75 71.80L93.00 71.30L93.25 71.64L93.50 70.97L93.75 70.37L94.00 68.18L94.25 65.59L94.50 63.83L94.75 64.69L95.00 67.83L95.25 70.25L95.50 70.73L95.75 71.07L96.00 71.21L96.25 71.18L96.50 70.46L96.75 70.34L97.00 64.62L97.25 12.72L97.50 -124.37L97.75 -134.22L98.00 4.85L98.25 63.74L98.50 70.30L98.75 70.89L99.00 71.09L99.25 71.02L99.50 71.26L99.75 71.18L100.00 71.71L100.25 71.71L100.50 71.75L100.75 71.38L101.00 71.67L101.25 71.46L101.50 71.85L101.75 71.83L102.00 72.02L102.25 71.83L102.50 71.82L102.75 71.89L103.00 71.42L103.25 71.77L103.50 71.39L103.75 71.62L104.00 71.45L104.25 72.03L104.50 71.39L104.75 72.02L105.00 72.04L105.25 71.68L105.50 71.96L105.75 71.41L106.00 71.47L106.25 71.38L106.50 71.42L106.75 71.37L107.00 71.94L107.25 71.42L107.50 71.77L107.75 71.54L108.00 71.44L108.25 71.63L108.50 71.45L108.75 72.00L109.00 71.57L109.25 71.70L109.50 71.66L109.75 71.68L110.00 71.54L110.25 71.35L110.50 71.20L110.75 71.66L111.00 71.07L111.25 71.10L111.50 71.15L111.75 70.68L112.00 70.04L112.25 64.56L112.50 51.99L112.75 52.11L113.00 64.77L113.25 69.78L113.50 70.89L113.75 70.95L114.00 71.26L114.25 71.48L114.50 71.34L114.75 71.67L115.00 71.76L115.25 71.27L115.50 71.83L115.75 71.81L116.00 71.81L116.25 71.46L116.50 71.40L116.75 71.31L117.00 71.47L117.25 71.79L117.50 71.42L117.75 71.14L118.00 71.31L118.25 71.10L118.50 71.40L118.75 71.40L119.00 71.36L119.25 70.56L119.50 70.43L119.75 68.36L120.00 43.74L120.25 -70.79L120.50 -160.21L120.75 -44.75L121.00 52.33L121.25 69.59L121.50 70.59L121.75 70.81L122.00 71.45L122.25 71.49L122.50 71.42L122.75 71.69L123.00 71.60L123.25 71.75L123.50 71.27L123.75 71.34L124.00 71.35L124.25 71.71L124.50 71.81L124.75 71.43L125.00 71.68L125.25 71.42L125.50 71.83L125.75 71.90L126.00 71.42L126.25 72.05L126.50 71.83L126.75 71.46L127.00 71.62L127.25 71.48L127.50 71.88L127.75 72.01L128.00 71.49L128.25 71.49L128.50 71.80L128.75 71.95L129.00 71.85L129.25 71.64L129.50 71.37L129.75 71.69L130.00 71.50L130.25 71.54L130.50 70.51L130.75 67.92L131.00 63.26L131.25 59.86L131.50 62.80L131.75 67.24L132.00 69.97L132.25 71.56L132.50 71.20L132.75 71.95L133.00 71.61L133.25 71.36L133.50 71.52L133.75 71.84L134.00 71.61L134.25 71.76L134.50 71.35L134.75 71.72L135.00 71.10L135.25 70.95L135.50 69.91L135.75 69.91L136.00 69.86L136.25 70.30L136.50 70.58L136.75 71.36L137.00 71.81L137.25 71.40L137.50 71.69L137.75 71.40L138.00 72.10L138.25 72.08L138.50 71.89L138.75 71.75L139.00 71.47L139.25 71.50L139.50 71.92L139.75 71.98L140.00 72.12L140.25 72.03L140.50 71.73L140.75 71.61L141.00 71.81L141.25 71.67L141.50 71.81L141.75 72.05L142.00 71.75L142.25 72.12L142.50 71.94L142.75 71.47L143.00 71.96L143.25 71.90L143.50 71.87L143.75 71.44L144.00 72.05L144.25 71.78L144.50 71.81L144.75 71.56L145.00 71.46L145.25 71.45L145.50 71.58L145.75 71.65L146.00 71.55L146.25 71.48L146.50 71.95L146.75 71.93L147.00 72.06L147.25 71.59L147.50 71.95L147.75 71.86L148.00 71.50L148.25 72.05L148.50 71.69L148.75 71.57L149.00 71.57L149.25 72.09L149.50 71.59L149.75 71.71L150.00 71.82L150.25 71.69L150.50 71.90L150.75 71.50L151.00 71.74L151.25 71.85L151.50 71.87L151.75 71.87L152.00 71.63L152.25 71.89L152.50 72.12L152.75 71.78L153.00 71.89L153.25 72.03L153.50 71.62L153.75 71.63L154.00 72.12L154.25 71.65L154.50 71.74L154.75 71.70L155.00 72.14L155.25 71.82L155.50 72.07L155.75 71.55L156.00 71.63L156.25 71.89L156.50 71.66L156.75 71.90L157.00 71.80L157.25 71.49L157.50 71.52L157.75 71.75L158.00 71.81L158.25 71.56L158.50 71.62L158.75 71.44L159.00 71.62L159.25 71.65L159.50 71.71L159.75 71.85L160.00 72.03L160.25 71.94L160.50 71.95L160.75 71.63L161.00 71.78L161.25 71.94L161.50 72.06L161.75 71.60L162.00 71.44L162.25 71.47L162.50 71.79L162.75 72.04L163.00 71.53L163.25 71.97L163.50 71.87L163.75 72.01L164.00 72.02L164.25 71.44L164.50 71.85L164.75 71.28L165.00 71.09L165.25 71.05L165.50 70.86L165.75 70.36L166.00 70.43L166.25 70.46L166.50 70.65L166.75 70.88L167.00 71.05L167.25 71.35L167.50 71.54L167.75 71.66L168.00 71.88L168.25 71.84L168.50 71.76L168.75 71.65L169.00 71.85L169.25 71.56L169.50 71.55L169.75 71.51L170.00 71.90L170.25 71.53L170.50 71.59L170.75 71.68L171.00 71.83L171.25 71.89L171.50 71.85L171.75 71.85L172.00 71.57L172.25 72.07L172.50 71.95L172.75 71.72L173.00 71.71L173.25 71.84L173.50 71.52L173.75 71.88L174.00 72.07L174.25 71.69L174.50 71.78L174.75 71.61L175.00 72.07L175.25 71.70L175.50 71.69L175.75 71.93L176.00 71.69L176.25 72.07L176.50 71.72L176.75 71.84L177.00 71.64L177.25 71.84L177.50 71.76L177.75 71.50L178.00 72.05L178.25 71.54L178.50 71.83L178.75 71.90L179.00 71.76L179.25 71.66L179.50 71.75L179.75 72.13L180.00 71.43L180.25 72.05L180.50 71.85L180.75 71.76L181.00 71.87L181.25 71.87L181.50 72.00L181.75 72.11L182.00 71.78L182.25 71.67L182.50 71.67L182.75 72.06L183.00 71.75L183.25 71.47L183.50 71.83L183.75 71.49L184.00 71.65L184.25 71.87L184.50 71.84L184.75 71.78L185.00 71.99L185.25 71.83L185.50 72.08L185.75 71.97L186.00 71.58L186.25 71.94L186.50 71.64L186.75 72.05L187.00 71.82L187.25 71.67L187.50 71.50L187.75 71.96L188.00 71.61L188.25 71.37L188.50 71.92L188.75 71.35L189.00 71.37L189.25 71.35L189.50 71.77L189.75 71.70L190.00 71.64L190.25 71.94L190.50 71.60L190.75 71.39L191.00 71.93L191.25 71.28L191.50 71.21L191.75 71.29L192.00 71.78L192.25 71.33L192.50 71.22L192.75 71.15L193.00 71.05L193.25 71.19L193.50 70.95L193.75 70.49L194.00 70.13L194.25 69.88L194.50 67.23L194.75 60.20L195.00 49.46L195.25 45.32L195.50 51.85L195.75 62.45L196.00 68.12L196.25 69.97L196.50 70.08L196.75 70.98L197.00 71.13L197.25 70.74L197.50 70.87L197.75 71.38L198.00 71.45L198.25 71.18L198.50 71.78L198.75 71.20L199.00 71.56L199.25 71.53L199.50 71.44L199.75 71.70L200.00 71.55L200.25 71.78L200.50 71.76L200.75 71.18L201.00 71.31L201.25 71.29L201.50 70.86L201.75 70.76L202.00 70.07L202.25 69.95L202.50 70.26L202.75 70.27L203.00 70.58L203.25 71.04L203.50 71.41L203.75 71.63L204.00 71.69L204.25 71.67L204.50 71.65L204.75 71.97L205.00 71.98L205.25 72.01L205.50 72.04L205.75 71.86L206.00 71.53L206.25 71.89L206.50 71.60L206.75 71.61L207.00 71.68L207.25 71.43L207.50 71.71L207.75 71.54L208.00 71.57L208.25 71.71L208.50 71.94L208.75 71.87L209.00 71.63L209.25 71.92L209.50 71.70L209.75 71.67L210.00 71.70L210.25 71.62L210.50 71.53L210.75 72.10L211.00 71.84L211.25 71.88L211.50 71.85L211.75 71.77L212.00 71.86L212.25 71.43L212.50 71.47L212.75 71.80L213.00 71.75L213.25 71.43L213.50 71.57L213.75 71.64L214.00 72.10L214.25 72.01L214.50 71.45L214.75 71.69L215.00 71.67L215.25 71.52L215.50 71.63L215.75 72.12L216.00 72.06L216.25 71.61L216.50 71.97L216.75 71.51L217.00 71.86L217.25 71.48L217.50 71.87L217.75 71.84L218.00 72.12L218.25 71.83L218.50 72.06L218.75 71.59L219.00 71.86L219.25 71.57L219.50 71.47L219.75 72.11L220.00 71.44L220.25 71.66L220.50 71.64L220.75 71.56L221.00 72.01L221.25 71.94L221.50 71.68L221.75 71.81L222.00 71.99L222.25 71.45L222.50 71.87L222.75 72.00L223.00 71.82L223.25 71.76L223.50 71.57L223.75 71.50L224.00 71.49L224.25 71.59L224.50 71.48L224.75 71.72L225.00 71.11L225.25 70.82L225.50 70.98L225.75 70.44L226.00 70.01L226.25 70.52L226.50 70.18L226.75 70.72L227.00 71.05L227.25 71.38L227.50 71.35L227.75 71.93L228.00 71.74L228.25 71.59L228.50 71.82L228.75 71.64L229.00 71.77L229.25 71.80L229.50 71.55L229.75 71.99L230.00 71.45L230.25 72.03L230.50 71.68L230.75 71.74L231.00 71.45L231.25 71.73L231.50 71.61L231.75 71.80L232.00 71.85L232.25 71.44L232.50 71.42L232.75 71.99L233.00 71.50L233.25 71.83L233.50 71.86L233.75 71.89L234.00 71.35L234.25 71.78L234.50 71.92L234.75 71.35L235.00 71.33L235.25 71.93L235.50 71.79L235.75 71.79L236.00 71.83L236.25 71.71L236.50 71.41L236.75 71.37L237.00 71.25L237.25 71.69L237.50 71.67L237.75 71.88L238.00 71.34L238.25 71.24L238.50 71.38L238.75 71.74L239.00 71.21L239.25 71.62L239.50 71.40L239.75 71.43L240.00 70.91L240.25 71.31L240.50 70.93L240.75 71.06L241.00 70.43L241.25 70.43L241.50 70.29L241.75 68.98L242.00 64.75L242.25 49.72L242.50 13.41L242.75 -49.79L243.00 -121.83L243.25 -160.19L243.50 -138.46L243.75 -71.74L244.00 -2.48L244.25 42.21L244.50 61.81L244.75 68.72L245.00 69.84L245.25 70.55L245.50 70.95L245.75 70.67L246.00 70.77L246.25 71.06L246.50 71.38L246.75 71.45L247.00 71.51L247.25 71.46L247.50 71.06L247.75 71.69L248.00 71.18L248.25 71.11L248.50 71.48L248.75 71.16L249.00 71.19L249.25 71.31L249.50 71.88L249.75 71.39L250.00 71.80L250.25 71.88L250.50 71.38L250.75 71.30L251.00 71.38L251.25 71.68L251.50 71.72L251.75 71.46L252.00 71.78L252.25 71.28L252.50 71.24L252.75 71.48L253.00 71.68L253.25 71.80L253.50 71.86L253.75 71.82L254.00 71.85L254.25 71.58L254.50 71.44L254.75 71.15L255.00 71.48L255.25 71.69L255.50 71.56L255.75 71.30L256.00 71.36L256.25 71.38L256.50 71.46L256.75 71.17L257.00 70.97L257.25 71.08L257.50 70.84L257.75 69.60L258.00 68.81L258.25 65.10L258.50 59.69L258.75 54.46L259.00 51.91L259.25 54.15L259.50 60.12L259.75 65.06L260.00 68.17L260.25 70.09L260.50 70.31L260.75 70.66L261.00 70.85L261.25 70.91L261.50 71.30L261.75 71.00L262.00 71.51L262.25 71.32L262.50 71.34L262.75 71.32L263.00 71.76L263.25 71.32L263.50 71.47L263.75 71.39L264.00 71.31L264.25 71.26L264.50 71.73L264.75 71.84L265.00 71.51L265.25 71.60L265.50 71.88L265.75 71.35L266.00 71.51L266.25 71.84L266.50 71.51L266.75 71.52L267.00 71.72"/>
</g>
<line x1="122.7" y1="9.5" x2="122.7" y2="68" stroke="#a58cff" stroke-width="0.8"/>
<g stroke="#000" stroke-width="1.5" fill="none">
<rect x="30.2" y="8.5" width="237.8" height="191.7"/>
<line x1="26" y1="178.40" x2="30.2" y2="178.40"/>
<line x1="28" y1="157.16" x2="30.2" y2="157.16"/>
<line x1="26" y1="135.92" x2="30.2" y2="135.92"/>
<line x1="28" y1="114.68" x2="30.2" y2="114.68"/>
<line x1="26" y1="93.44" x2="30.2" y2="93.44"/>
<line x1="28" y1="72.20" x2="30.2" y2="72.20"/>
<line x1="26" y1="50.96" x2="30.2" y2="50.96"/>
<line x1="28" y1="29.72" x2="30.2" y2="29.72"/>
<line x1="26" y1="8.48" x2="30.2" y2="8.48"/>
<line x1="30.20" y1="200.2" x2="30.20" y2="196.70"/>
<line x1="48.47" y1="200.2" x2="48.47" y2="198.20"/>
<line x1="66.75" y1="200.2" x2="66.75" y2="196.70"/>
<line x1="85.02" y1="200.2" x2="85.02" y2="198.20"/>
<line x1="103.30" y1="200.2" x2="103.30" y2="196.70"/>
<line x1="121.58" y1="200.2" x2="121.58" y2="198.20"/>
<line x1="139.85" y1="200.2" x2="139.85" y2="196.70"/>
<line x1="158.12" y1="200.2" x2="158.12" y2="198.20"/>
<line x1="176.40" y1="200.2" x2="176.40" y2="196.70"/>
<line x1="194.67" y1="200.2" x2="194.67" y2="198.20"/>
<line x1="212.95" y1="200.2" x2="212.95" y2="196.70"/>
<line x1="231.22" y1="200.2" x2="231.22" y2="198.20"/>
<line x1="249.50" y1="200.2" x2="249.50" y2="196.70"/>
<line x1="267.77" y1="200.2" x2="267.77" y2="198.20"/>
</g>
<rect x="94.63" y="8.5" width="6" height="4.2" fill="#000"/>
<rect x="117.48" y="8.5" width="6" height="4.2" fill="#000"/>
<rect x="192.22" y="8.5" width="6" height="4.2" fill="#000"/>
<rect x="240.29" y="8.5" width="6" height="4.2" fill="#000"/>
<circle cx="33.0" cy="57.7" r="2.8" fill="#ff0000"/>
<circle cx="64.6" cy="65.9" r="2.8" fill="#ff0000"/>
<circle cx="94.4" cy="60.5" r="2.8" fill="#ff0000"/>
<circle cx="112.5" cy="48.6" r="2.8" fill="#ff0000"/>
<circle cx="132.0" cy="57.3" r="2.8" fill="#ff0000"/>
<rect x="38" y="26.2" width="5.7" height="4.6" fill="#000"/>
<circle cx="40.2" cy="40" r="2.9" fill="#ff0000"/>
<text x="47.9" y="31.4" font-family="Liberation Serif" font-size="9.8" fill="#000">Al</text>
<text x="45.2" y="42.9" font-family="Liberation Serif" font-size="9.8" fill="#000">Al<tspan font-size="7" dy="2.2">2</tspan><tspan dy="-2.2">Cu</tspan></text>
<line x1="126" y1="12.60" x2="145.3" y2="12.60" stroke="#8c1aff" stroke-width="1.4"/>
<text x="146.8" y="15.70" font-family="Liberation Serif" font-size="8.1" fill="#2a2a2a" style="color:#2a2a2a">casting</text>
<line x1="126" y1="22.65" x2="145.3" y2="22.65" stroke="#2449ff" stroke-width="1.4"/>
<text x="146.8" y="25.75" font-family="Liberation Serif" font-size="8.1" fill="#2a2a2a" style="color:#2a2a2a">T4</text>
<line x1="126" y1="32.70" x2="145.3" y2="32.70" stroke="#1fd18a" stroke-width="1.4"/>
<text x="146.8" y="35.80" font-family="Liberation Serif" font-size="8.1" fill="#2a2a2a" style="color:#2a2a2a">T87</text>
<line x1="126" y1="42.75" x2="145.3" y2="42.75" stroke="#ebe22e" stroke-width="1.4"/>
<text x="146.8" y="45.85" font-family="Liberation Serif" font-size="8.1" fill="#2a2a2a" style="color:#2a2a2a">casting-AFSD</text>
<line x1="126" y1="52.80" x2="145.3" y2="52.80" stroke="#ff9040" stroke-width="1.4"/>
<text x="146.8" y="55.90" font-family="Liberation Serif" font-size="8.1" fill="#2a2a2a" style="color:#2a2a2a">T4-AFSD</text>
<line x1="126" y1="62.85" x2="145.3" y2="62.85" stroke="#ff1a8c" stroke-width="1.4"/>
<text x="146.8" y="65.95" font-family="Liberation Serif" font-size="8.1" fill="#2a2a2a" style="color:#2a2a2a">T87-AFSD</text>
<text x="30.20" y="213.6" text-anchor="middle" font-family="Liberation Serif" font-size="12.8" fill="#000">20</text>
<text x="66.75" y="213.6" text-anchor="middle" font-family="Liberation Serif" font-size="12.8" fill="#000">30</text>
<text x="103.30" y="213.6" text-anchor="middle" font-family="Liberation Serif" font-size="12.8" fill="#000">40</text>
<text x="139.85" y="213.6" text-anchor="middle" font-family="Liberation Serif" font-size="12.8" fill="#000">50</text>
<text x="176.40" y="213.6" text-anchor="middle" font-family="Liberation Serif" font-size="12.8" fill="#000">60</text>
<text x="212.95" y="213.6" text-anchor="middle" font-family="Liberation Serif" font-size="12.8" fill="#000">70</text>
<text x="249.50" y="213.6" text-anchor="middle" font-family="Liberation Serif" font-size="12.8" fill="#000">80</text>
<text x="148.8" y="230.6" text-anchor="middle" font-family="Liberation Sans" font-size="16.4" fill="#000">2(θ°)</text>
<text transform="translate(18.3,147.5) rotate(-90)" font-family="Liberation Serif" font-size="16" fill="#000">Intensity(au.)</text>
<text x="137" y="262.9" text-anchor="middle" font-family="Liberation Serif" font-weight="bold" font-size="14.5" fill="#000">(a)</text>
<rect x="314.20" y="176.45" width="31.60" height="6.95" fill="#00ffff" stroke="#222" stroke-width="0.8"/>
<rect x="345.80" y="120.83" width="31.60" height="62.57" fill="#ff0000" stroke="#222" stroke-width="0.8"/>
<rect x="393.20" y="82.60" width="31.60" height="100.80" fill="#00ffff" stroke="#222" stroke-width="0.8"/>
<rect x="424.80" y="117.36" width="31.60" height="66.04" fill="#ff0000" stroke="#222" stroke-width="0.8"/>
<rect x="472.20" y="51.31" width="31.60" height="132.09" fill="#00ffff" stroke="#222" stroke-width="0.8"/>
<rect x="503.80" y="110.40" width="31.60" height="73.00" fill="#ff0000" stroke="#222" stroke-width="0.8"/>
<line x1="330.4" y1="176.8" x2="330.4" y2="197.3" stroke="#000" stroke-opacity="0.4" stroke-width="1"/>
<line x1="328.4" y1="197.3" x2="332.4" y2="197.3" stroke="#000" stroke-opacity="0.4" stroke-width="1"/>
<line x1="408.9" y1="82.4" x2="408.9" y2="117.5" stroke="#000" stroke-opacity="0.4" stroke-width="1"/>
<line x1="406.9" y1="117.5" x2="410.9" y2="117.5" stroke="#000" stroke-opacity="0.4" stroke-width="1"/>
<line x1="488.0" y1="51.2" x2="488.0" y2="82.1" stroke="#000" stroke-opacity="0.4" stroke-width="1"/>
<line x1="486.0" y1="82.1" x2="490.0" y2="82.1" stroke="#000" stroke-opacity="0.4" stroke-width="1"/>
<line x1="361.6" y1="120.8" x2="361.6" y2="127.4" stroke="#000" stroke-opacity="0.4" stroke-width="1"/>
<line x1="359.6" y1="127.4" x2="363.6" y2="127.4" stroke="#000" stroke-opacity="0.4" stroke-width="1"/>
<line x1="440.5" y1="117.2" x2="440.5" y2="123.8" stroke="#000" stroke-opacity="0.4" stroke-width="1"/>
<line x1="438.5" y1="123.8" x2="442.5" y2="123.8" stroke="#000" stroke-opacity="0.4" stroke-width="1"/>
<line x1="519.8" y1="110.2" x2="519.8" y2="117.4" stroke="#000" stroke-opacity="0.4" stroke-width="1"/>
<line x1="517.8" y1="117.4" x2="521.8" y2="117.4" stroke="#000" stroke-opacity="0.4" stroke-width="1"/>
<text x="330.00" y="173.75" text-anchor="middle" font-family="Liberation Serif" font-size="12.3" fill="#000">0.2</text>
<text x="361.60" y="118.13" text-anchor="middle" font-family="Liberation Serif" font-size="12.3" fill="#000">1.8</text>
<text x="409.00" y="79.90" text-anchor="middle" font-family="Liberation Serif" font-size="12.3" fill="#000">2.9</text>
<text x="440.60" y="114.66" text-anchor="middle" font-family="Liberation Serif" font-size="12.3" fill="#000">1.9</text>
<text x="488.00" y="48.61" text-anchor="middle" font-family="Liberation Serif" font-size="12.3" fill="#000">3.8</text>
<text x="519.60" y="107.70" text-anchor="middle" font-family="Liberation Serif" font-size="12.3" fill="#000">2.1</text>
<line x1="306.3" y1="183.4" x2="543.3" y2="183.4" stroke="#000" stroke-width="1.2"/>
<g stroke="#000" stroke-width="1.7" fill="none">
<rect x="306.3" y="9.6" width="237" height="191"/>
<line x1="306.3" y1="166.02" x2="308.50" y2="166.02"/>
<line x1="306.3" y1="148.64" x2="309.80" y2="148.64"/>
<line x1="306.3" y1="131.26" x2="308.50" y2="131.26"/>
<line x1="306.3" y1="113.88" x2="309.80" y2="113.88"/>
<line x1="306.3" y1="96.50" x2="308.50" y2="96.50"/>
<line x1="306.3" y1="79.12" x2="309.80" y2="79.12"/>
<line x1="306.3" y1="61.74" x2="308.50" y2="61.74"/>
<line x1="306.3" y1="44.36" x2="309.80" y2="44.36"/>
<line x1="306.3" y1="26.98" x2="308.50" y2="26.98"/>
<line x1="345.80" y1="200.6" x2="345.80" y2="197.60"/>
<line x1="385.30" y1="200.6" x2="385.30" y2="198.80"/>
<line x1="424.80" y1="200.6" x2="424.80" y2="197.60"/>
<line x1="464.30" y1="200.6" x2="464.30" y2="198.80"/>
<line x1="503.80" y1="200.6" x2="503.80" y2="197.60"/>
</g>
<rect x="312.8" y="13.2" width="27.8" height="14.1" fill="#00ffff" stroke="#222" stroke-width="0.8"/>
<rect x="312.8" y="28.8" width="27.8" height="14.1" fill="#ff0000" stroke="#222" stroke-width="0.8"/>
<text x="344.5" y="25.0" font-family="Liberation Serif" font-size="12.7" fill="#000">Feedstock</text>
<text x="344.7" y="40.6" font-family="Liberation Serif" font-size="12.7" fill="#000">AFSD</text>
<text x="302.2" y="187.80" text-anchor="end" font-family="Liberation Serif" font-size="12.8" fill="#000">0</text>
<text x="302.2" y="153.04" text-anchor="end" font-family="Liberation Serif" font-size="12.8" fill="#000">1</text>
<text x="302.2" y="118.28" text-anchor="end" font-family="Liberation Serif" font-size="12.8" fill="#000">2</text>
<text x="302.2" y="83.52" text-anchor="end" font-family="Liberation Serif" font-size="12.8" fill="#000">3</text>
<text x="302.2" y="48.76" text-anchor="end" font-family="Liberation Serif" font-size="12.8" fill="#000">4</text>
<text x="302.2" y="14.00" text-anchor="end" font-family="Liberation Serif" font-size="12.8" fill="#000">5</text>
<text x="345.80" y="217.8" text-anchor="middle" font-family="Liberation Serif" font-size="16.3" fill="#000">casting</text>
<text x="424.80" y="217.8" text-anchor="middle" font-family="Liberation Serif" font-size="16.3" fill="#000">T4</text>
<text x="503.80" y="217.8" text-anchor="middle" font-family="Liberation Serif" font-size="16.3" fill="#000">T87</text>
<text transform="translate(291.2,207.2) rotate(-90)" font-family="Liberation Serif" font-size="16.1" fill="#000">Dislocation density×1014(m<tspan font-size="15.5" dy="-4.6">-2</tspan><tspan dy="4.6">)</tspan></text>
<text x="418.6" y="262.9" text-anchor="middle" font-family="Liberation Serif" font-weight="bold" font-size="15" fill="#000">(b)</text>
</svg></body></html>
